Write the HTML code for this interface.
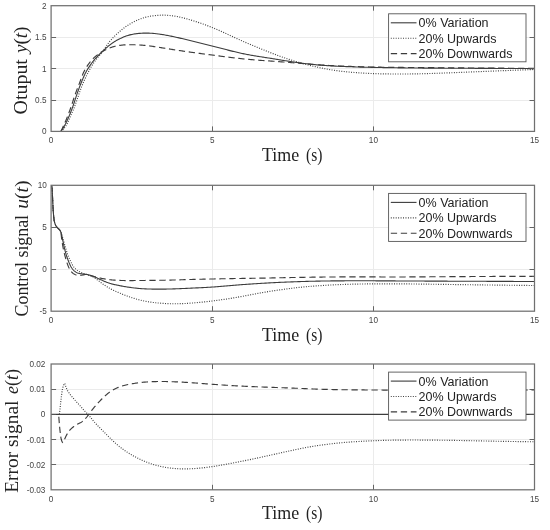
<!DOCTYPE html>
<html lang="en">
<head>
<meta charset="utf-8">
<title>Output, control signal and error signal under parameter variation</title>
<style>
html,body{margin:0;padding:0;background:#fff;}
body{width:550px;height:530px;overflow:hidden;}
svg{display:block;}
</style>
</head>
<body>
<svg width="550" height="530" viewBox="0 0 550 530">
<rect width="550" height="530" fill="#fff"/>
<g>
<path d="M212.5 5.7 V131.4 M373.5 5.7 V131.4 M51.1 37.5 H534.5 M51.1 68.5 H534.5 M51.1 100.5 H534.5" stroke="#ebebeb" stroke-width="1" fill="none"/>
<path d="M60.80 131.50 L61.30 130.84 L61.80 130.15 L62.30 129.42 L62.80 128.66 L63.30 127.86 L63.80 127.04 L64.30 126.18 L64.80 125.29 L65.30 124.36 L65.80 123.39 L66.30 122.37 L66.80 121.31 L67.30 120.22 L67.80 119.11 L68.30 117.97 L68.80 116.82 L69.30 115.65 L69.80 114.46 L70.30 113.23 L70.80 111.96 L71.30 110.67 L71.80 109.35 L72.30 108.00 L72.80 106.63 L73.30 105.24 L73.80 103.78 L74.30 102.26 L74.80 100.71 L75.30 99.15 L75.80 97.60 L76.30 96.07 L76.80 94.60 L77.30 93.17 L77.80 91.76 L78.30 90.36 L78.80 88.98 L79.30 87.63 L79.80 86.30 L80.30 85.01 L80.80 83.75 L81.30 82.51 L81.80 81.28 L82.30 80.06 L82.80 78.86 L83.30 77.69 L83.80 76.54 L84.30 75.44 L84.80 74.37 L85.30 73.35 L85.80 72.39 L86.30 71.47 L86.80 70.58 L87.30 69.73 L87.80 68.91 L88.30 68.12 L88.80 67.35 L89.30 66.59 L89.80 65.85 L90.30 65.13 L90.80 64.41 L91.30 63.71 L91.80 63.03 L92.30 62.36 L92.80 61.71 L93.30 61.07 L93.80 60.45 L94.30 59.84 L94.80 59.25 L95.30 58.68 L95.80 58.12 L96.30 57.58 L96.80 57.05 L97.30 56.53 L97.80 56.01 L98.30 55.50 L98.80 54.99 L99.30 54.48 L99.80 53.99 L100.30 53.50 L100.80 53.01 L101.30 52.53 L101.80 52.06 L102.30 51.59 L102.80 51.12 L103.30 50.65 L103.80 50.18 L104.30 49.72 L104.80 49.26 L105.30 48.81 L105.80 48.36 L106.30 47.92 L106.80 47.48 L107.30 47.05 L107.80 46.62 L108.30 46.20 L108.80 45.78 L109.30 45.37 L109.80 44.97 L110.30 44.59 L110.80 44.21 L111.30 43.85 L111.80 43.49 L112.30 43.14 L112.80 42.79 L113.30 42.46 L113.80 42.13 L114.30 41.81 L114.80 41.50 L115.30 41.19 L115.80 40.89 L116.30 40.60 L116.80 40.32 L117.30 40.04 L117.80 39.76 L118.30 39.49 L118.80 39.23 L119.30 38.97 L119.80 38.72 L120.00 38.62 L121.00 38.14 L122.00 37.68 L123.00 37.25 L124.00 36.83 L125.00 36.44 L126.00 36.07 L127.00 35.73 L128.00 35.42 L129.00 35.13 L130.00 34.87 L131.00 34.63 L132.00 34.42 L133.00 34.22 L134.00 34.05 L135.00 33.89 L136.00 33.75 L137.00 33.62 L138.00 33.51 L139.00 33.41 L140.00 33.33 L141.00 33.26 L142.00 33.20 L143.00 33.15 L144.00 33.12 L145.00 33.10 L146.00 33.09 L147.00 33.10 L148.00 33.11 L149.00 33.14 L150.00 33.18 L151.00 33.24 L152.00 33.30 L153.00 33.38 L154.00 33.47 L155.00 33.57 L156.00 33.68 L157.00 33.80 L158.00 33.93 L159.00 34.06 L160.00 34.20 L161.00 34.34 L162.00 34.49 L163.00 34.65 L164.00 34.82 L165.00 34.99 L166.00 35.17 L167.00 35.35 L168.00 35.54 L169.00 35.74 L170.00 35.94 L171.00 36.14 L172.00 36.35 L173.00 36.56 L174.00 36.78 L175.00 36.99 L176.00 37.21 L177.00 37.43 L178.00 37.65 L179.00 37.88 L180.00 38.11 L181.00 38.34 L182.00 38.57 L183.00 38.80 L184.00 39.03 L185.00 39.27 L186.00 39.51 L187.00 39.75 L188.00 39.99 L189.00 40.23 L190.00 40.47 L191.00 40.72 L192.00 40.96 L193.00 41.21 L194.00 41.46 L195.00 41.71 L196.00 41.96 L197.00 42.21 L198.00 42.46 L199.00 42.72 L200.00 42.97 L201.00 43.22 L202.00 43.48 L203.00 43.73 L204.00 43.99 L205.00 44.24 L206.00 44.50 L207.00 44.75 L208.00 45.00 L209.00 45.26 L210.00 45.51 L211.00 45.76 L212.00 46.02 L213.00 46.27 L214.00 46.53 L215.00 46.78 L216.00 47.04 L217.00 47.29 L218.00 47.55 L219.00 47.80 L220.00 48.06 L221.00 48.31 L222.00 48.57 L223.00 48.82 L224.00 49.08 L225.00 49.34 L226.00 49.59 L227.00 49.84 L228.00 50.10 L229.00 50.35 L230.00 50.60 L231.00 50.85 L232.00 51.10 L233.00 51.35 L234.00 51.59 L235.00 51.83 L236.00 52.07 L237.00 52.30 L238.00 52.54 L239.00 52.76 L240.00 52.99 L241.00 53.21 L242.00 53.42 L243.00 53.64 L244.00 53.84 L245.00 54.05 L246.00 54.25 L247.00 54.44 L248.00 54.63 L249.00 54.82 L250.00 55.00 L251.00 55.18 L252.00 55.35 L253.00 55.53 L254.00 55.70 L255.00 55.86 L256.00 56.03 L257.00 56.19 L258.00 56.35 L259.00 56.51 L260.00 56.67 L261.00 56.83 L262.00 56.98 L263.00 57.14 L264.00 57.30 L265.00 57.45 L266.00 57.61 L267.00 57.77 L268.00 57.92 L269.00 58.08 L270.00 58.24 L271.00 58.40 L272.00 58.56 L273.00 58.72 L274.00 58.88 L275.00 59.04 L276.00 59.21 L277.00 59.37 L278.00 59.53 L279.00 59.70 L280.00 59.86 L281.00 60.02 L282.00 60.19 L283.00 60.35 L284.00 60.51 L285.00 60.67 L286.00 60.83 L287.00 60.99 L288.00 61.15 L289.00 61.31 L290.00 61.47 L291.00 61.62 L292.00 61.78 L293.00 61.93 L294.00 62.08 L295.00 62.22 L296.00 62.37 L297.00 62.51 L298.00 62.65 L299.00 62.79 L300.00 62.92 L301.00 63.05 L302.00 63.18 L303.00 63.31 L304.00 63.44 L305.00 63.56 L306.00 63.68 L307.00 63.80 L308.00 63.91 L309.00 64.03 L310.00 64.14 L311.00 64.24 L312.00 64.35 L313.00 64.45 L314.00 64.55 L315.00 64.65 L316.00 64.75 L317.00 64.84 L318.00 64.93 L319.00 65.02 L320.00 65.10 L321.00 65.19 L322.00 65.27 L323.00 65.34 L324.00 65.42 L325.00 65.49 L326.00 65.56 L327.00 65.63 L328.00 65.70 L329.00 65.76 L330.00 65.82 L331.00 65.88 L332.00 65.94 L333.00 65.99 L334.00 66.05 L335.00 66.10 L336.00 66.15 L337.00 66.20 L338.00 66.25 L339.00 66.29 L340.00 66.34 L341.00 66.38 L342.00 66.43 L343.00 66.47 L344.00 66.51 L345.00 66.55 L346.00 66.59 L347.00 66.63 L348.00 66.67 L349.00 66.71 L350.00 66.75 L351.00 66.78 L352.00 66.82 L353.00 66.85 L354.00 66.89 L355.00 66.92 L356.00 66.95 L357.00 66.99 L358.00 67.02 L359.00 67.05 L360.00 67.08 L361.00 67.10 L362.00 67.13 L363.00 67.16 L364.00 67.18 L365.00 67.21 L366.00 67.23 L367.00 67.25 L368.00 67.28 L369.00 67.30 L370.00 67.32 L371.00 67.34 L372.00 67.36 L373.00 67.38 L374.00 67.40 L375.00 67.42 L376.00 67.44 L377.00 67.46 L378.00 67.48 L379.00 67.50 L380.00 67.52 L381.00 67.54 L382.00 67.56 L383.00 67.58 L384.00 67.59 L385.00 67.61 L386.00 67.63 L387.00 67.65 L388.00 67.67 L389.00 67.68 L390.00 67.70 L391.00 67.72 L392.00 67.73 L393.00 67.75 L394.00 67.77 L395.00 67.78 L396.00 67.80 L397.00 67.81 L398.00 67.83 L399.00 67.84 L400.00 67.86 L401.00 67.87 L402.00 67.89 L403.00 67.90 L404.00 67.91 L405.00 67.92 L406.00 67.94 L407.00 67.95 L408.00 67.96 L409.00 67.97 L410.00 67.98 L411.00 67.99 L412.00 68.00 L413.00 68.01 L414.00 68.01 L415.00 68.02 L416.00 68.03 L417.00 68.04 L418.00 68.04 L419.00 68.05 L420.00 68.06 L421.00 68.06 L422.00 68.07 L423.00 68.08 L424.00 68.08 L425.00 68.09 L426.00 68.09 L427.00 68.10 L428.00 68.10 L429.00 68.11 L430.00 68.11 L431.00 68.12 L432.00 68.12 L433.00 68.13 L434.00 68.13 L435.00 68.13 L436.00 68.14 L437.00 68.14 L438.00 68.15 L439.00 68.15 L440.00 68.16 L441.00 68.16 L442.00 68.17 L443.00 68.17 L444.00 68.17 L445.00 68.18 L446.00 68.18 L447.00 68.19 L448.00 68.19 L449.00 68.20 L450.00 68.20 L451.00 68.21 L452.00 68.21 L453.00 68.22 L454.00 68.22 L455.00 68.23 L456.00 68.23 L457.00 68.24 L458.00 68.24 L459.00 68.25 L460.00 68.25 L461.00 68.26 L462.00 68.26 L463.00 68.27 L464.00 68.27 L465.00 68.28 L466.00 68.28 L467.00 68.29 L468.00 68.29 L469.00 68.30 L470.00 68.30 L471.00 68.31 L472.00 68.31 L473.00 68.32 L474.00 68.32 L475.00 68.33 L476.00 68.33 L477.00 68.34 L478.00 68.34 L479.00 68.35 L480.00 68.35 L481.00 68.36 L482.00 68.36 L483.00 68.37 L484.00 68.37 L485.00 68.38 L486.00 68.38 L487.00 68.38 L488.00 68.39 L489.00 68.39 L490.00 68.40 L491.00 68.40 L492.00 68.41 L493.00 68.41 L494.00 68.42 L495.00 68.42 L496.00 68.43 L497.00 68.43 L498.00 68.44 L499.00 68.44 L500.00 68.45 L501.00 68.45 L502.00 68.46 L503.00 68.46 L504.00 68.46 L505.00 68.47 L506.00 68.47 L507.00 68.48 L508.00 68.48 L509.00 68.49 L510.00 68.49 L511.00 68.50 L512.00 68.50 L513.00 68.51 L514.00 68.51 L515.00 68.51 L516.00 68.52 L517.00 68.52 L518.00 68.53 L519.00 68.53 L520.00 68.54 L521.00 68.54 L522.00 68.55 L523.00 68.55 L524.00 68.55 L525.00 68.56 L526.00 68.56 L527.00 68.57 L528.00 68.57 L529.00 68.58 L530.00 68.58 L531.00 68.59 L532.00 68.59 L533.00 68.59 L534.00 68.60 L534.50 68.60" fill="none" stroke="#3c3c3c" stroke-width="1.1"/>
<path d="M60.90 131.50 L61.40 131.14 L61.90 130.73 L62.40 130.26 L62.90 129.74 L63.40 129.18 L63.90 128.58 L64.40 127.94 L64.90 127.27 L65.40 126.57 L65.90 125.85 L66.40 125.05 L66.90 124.17 L67.40 123.20 L67.90 122.17 L68.40 121.10 L68.90 119.99 L69.40 118.86 L69.90 117.72 L70.40 116.59 L70.90 115.48 L71.40 114.35 L71.90 113.20 L72.40 112.02 L72.90 110.83 L73.40 109.61 L73.90 108.37 L74.40 107.10 L74.90 105.80 L75.40 104.45 L75.90 103.05 L76.40 101.60 L76.90 100.13 L77.40 98.64 L77.90 97.17 L78.40 95.71 L78.90 94.29 L79.40 92.86 L79.90 91.42 L80.40 90.00 L80.90 88.59 L81.40 87.23 L81.90 85.92 L82.40 84.69 L82.90 83.50 L83.40 82.33 L83.90 81.20 L84.40 80.09 L84.90 79.00 L85.40 77.94 L85.90 76.90 L86.40 75.87 L86.90 74.87 L87.40 73.88 L87.90 72.91 L88.40 71.95 L88.90 71.01 L89.40 70.08 L89.90 69.16 L90.40 68.27 L90.90 67.39 L91.40 66.54 L91.90 65.70 L92.40 64.89 L92.90 64.11 L93.40 63.35 L93.90 62.61 L94.40 61.89 L94.90 61.20 L95.40 60.52 L95.90 59.85 L96.40 59.19 L96.90 58.54 L97.40 57.90 L97.90 57.27 L98.40 56.67 L98.90 56.08 L99.40 55.51 L99.90 54.94 L100.40 54.36 L100.90 53.78 L101.40 53.19 L101.90 52.58 L102.40 51.94 L102.90 51.27 L103.40 50.55 L103.90 49.79 L104.40 49.01 L104.90 48.21 L105.40 47.42 L105.90 46.64 L106.40 45.90 L106.90 45.20 L107.40 44.50 L107.90 43.82 L108.40 43.15 L108.90 42.49 L109.40 41.86 L109.90 41.24 L110.40 40.65 L110.90 40.07 L111.40 39.51 L111.90 38.96 L112.40 38.42 L112.90 37.89 L113.40 37.37 L113.90 36.87 L114.40 36.37 L114.90 35.88 L115.40 35.39 L115.90 34.91 L116.40 34.44 L116.90 33.98 L117.40 33.52 L117.90 33.06 L118.40 32.61 L118.90 32.17 L119.40 31.74 L119.90 31.30 L120.00 31.22 L121.00 30.38 L122.00 29.56 L123.00 28.77 L124.00 27.99 L125.00 27.24 L126.00 26.52 L127.00 25.82 L128.00 25.15 L129.00 24.51 L130.00 23.90 L131.00 23.31 L132.00 22.75 L133.00 22.21 L134.00 21.70 L135.00 21.20 L136.00 20.73 L137.00 20.28 L138.00 19.85 L139.00 19.44 L140.00 19.06 L141.00 18.69 L142.00 18.35 L143.00 18.02 L144.00 17.72 L145.00 17.43 L146.00 17.17 L147.00 16.92 L148.00 16.69 L149.00 16.48 L150.00 16.29 L151.00 16.11 L152.00 15.95 L153.00 15.81 L154.00 15.68 L155.00 15.57 L156.00 15.48 L157.00 15.40 L158.00 15.33 L159.00 15.29 L160.00 15.23 L161.00 15.19 L162.00 15.17 L163.00 15.16 L164.00 15.17 L165.00 15.19 L166.00 15.22 L167.00 15.27 L168.00 15.33 L169.00 15.41 L170.00 15.50 L171.00 15.61 L172.00 15.73 L173.00 15.86 L174.00 16.01 L175.00 16.16 L176.00 16.33 L177.00 16.52 L178.00 16.71 L179.00 16.91 L180.00 17.13 L181.00 17.36 L182.00 17.59 L183.00 17.84 L184.00 18.09 L185.00 18.35 L186.00 18.62 L187.00 18.90 L188.00 19.18 L189.00 19.47 L190.00 19.77 L191.00 20.07 L192.00 20.38 L193.00 20.69 L194.00 21.01 L195.00 21.33 L196.00 21.65 L197.00 21.98 L198.00 22.31 L199.00 22.65 L200.00 22.99 L201.00 23.33 L202.00 23.68 L203.00 24.03 L204.00 24.39 L205.00 24.75 L206.00 25.12 L207.00 25.49 L208.00 25.87 L209.00 26.25 L210.00 26.64 L211.00 27.03 L212.00 27.43 L213.00 27.83 L214.00 28.25 L215.00 28.66 L216.00 29.09 L217.00 29.51 L218.00 29.95 L219.00 30.39 L220.00 30.83 L221.00 31.28 L222.00 31.73 L223.00 32.18 L224.00 32.64 L225.00 33.10 L226.00 33.56 L227.00 34.02 L228.00 34.48 L229.00 34.95 L230.00 35.41 L231.00 35.87 L232.00 36.33 L233.00 36.80 L234.00 37.25 L235.00 37.71 L236.00 38.17 L237.00 38.62 L238.00 39.08 L239.00 39.53 L240.00 39.97 L241.00 40.42 L242.00 40.86 L243.00 41.30 L244.00 41.74 L245.00 42.18 L246.00 42.61 L247.00 43.04 L248.00 43.47 L249.00 43.89 L250.00 44.32 L251.00 44.74 L252.00 45.16 L253.00 45.57 L254.00 45.99 L255.00 46.40 L256.00 46.82 L257.00 47.23 L258.00 47.64 L259.00 48.05 L260.00 48.46 L261.00 48.87 L262.00 49.27 L263.00 49.68 L264.00 50.09 L265.00 50.49 L266.00 50.89 L267.00 51.29 L268.00 51.69 L269.00 52.09 L270.00 52.48 L271.00 52.87 L272.00 53.26 L273.00 53.65 L274.00 54.03 L275.00 54.41 L276.00 54.79 L277.00 55.16 L278.00 55.53 L279.00 55.89 L280.00 56.26 L281.00 56.61 L282.00 56.97 L283.00 57.32 L284.00 57.67 L285.00 58.01 L286.00 58.35 L287.00 58.69 L288.00 59.02 L289.00 59.35 L290.00 59.67 L291.00 59.99 L292.00 60.31 L293.00 60.62 L294.00 60.93 L295.00 61.23 L296.00 61.53 L297.00 61.83 L298.00 62.13 L299.00 62.42 L300.00 62.70 L301.00 62.99 L302.00 63.27 L303.00 63.54 L304.00 63.82 L305.00 64.09 L306.00 64.35 L307.00 64.62 L308.00 64.88 L309.00 65.13 L310.00 65.39 L311.00 65.63 L312.00 65.88 L313.00 66.12 L314.00 66.36 L315.00 66.60 L316.00 66.83 L317.00 67.06 L318.00 67.28 L319.00 67.50 L320.00 67.71 L321.00 67.92 L322.00 68.13 L323.00 68.33 L324.00 68.53 L325.00 68.73 L326.00 68.91 L327.00 69.10 L328.00 69.28 L329.00 69.45 L330.00 69.63 L331.00 69.79 L332.00 69.95 L333.00 70.11 L334.00 70.26 L335.00 70.41 L336.00 70.55 L337.00 70.69 L338.00 70.83 L339.00 70.96 L340.00 71.08 L341.00 71.21 L342.00 71.32 L343.00 71.44 L344.00 71.55 L345.00 71.65 L346.00 71.76 L347.00 71.86 L348.00 71.95 L349.00 72.05 L350.00 72.14 L351.00 72.23 L352.00 72.31 L353.00 72.39 L354.00 72.47 L355.00 72.55 L356.00 72.63 L357.00 72.70 L358.00 72.77 L359.00 72.84 L360.00 72.90 L361.00 72.97 L362.00 73.03 L363.00 73.09 L364.00 73.15 L365.00 73.21 L366.00 73.26 L367.00 73.31 L368.00 73.36 L369.00 73.41 L370.00 73.46 L371.00 73.50 L372.00 73.54 L373.00 73.58 L374.00 73.62 L375.00 73.65 L376.00 73.69 L377.00 73.72 L378.00 73.74 L379.00 73.77 L380.00 73.80 L381.00 73.82 L382.00 73.84 L383.00 73.86 L384.00 73.88 L385.00 73.89 L386.00 73.91 L387.00 73.92 L388.00 73.93 L389.00 73.94 L390.00 73.95 L391.00 73.96 L392.00 73.97 L393.00 73.97 L394.00 73.98 L395.00 73.98 L396.00 73.98 L397.00 73.98 L398.00 73.99 L399.00 73.99 L400.00 73.99 L401.00 73.99 L402.00 73.99 L403.00 73.98 L404.00 73.98 L405.00 73.98 L406.00 73.97 L407.00 73.97 L408.00 73.96 L409.00 73.96 L410.00 73.95 L411.00 73.94 L412.00 73.93 L413.00 73.92 L414.00 73.91 L415.00 73.89 L416.00 73.88 L417.00 73.86 L418.00 73.84 L419.00 73.82 L420.00 73.80 L421.00 73.78 L422.00 73.75 L423.00 73.73 L424.00 73.70 L425.00 73.68 L426.00 73.65 L427.00 73.62 L428.00 73.59 L429.00 73.56 L430.00 73.53 L431.00 73.50 L432.00 73.47 L433.00 73.43 L434.00 73.40 L435.00 73.37 L436.00 73.33 L437.00 73.30 L438.00 73.26 L439.00 73.23 L440.00 73.19 L441.00 73.16 L442.00 73.12 L443.00 73.08 L444.00 73.05 L445.00 73.01 L446.00 72.97 L447.00 72.93 L448.00 72.90 L449.00 72.86 L450.00 72.82 L451.00 72.78 L452.00 72.74 L453.00 72.70 L454.00 72.66 L455.00 72.62 L456.00 72.58 L457.00 72.54 L458.00 72.50 L459.00 72.46 L460.00 72.42 L461.00 72.38 L462.00 72.33 L463.00 72.29 L464.00 72.25 L465.00 72.21 L466.00 72.17 L467.00 72.13 L468.00 72.09 L469.00 72.05 L470.00 72.00 L471.00 71.96 L472.00 71.92 L473.00 71.88 L474.00 71.84 L475.00 71.80 L476.00 71.76 L477.00 71.72 L478.00 71.68 L479.00 71.64 L480.00 71.60 L481.00 71.56 L482.00 71.52 L483.00 71.48 L484.00 71.44 L485.00 71.40 L486.00 71.36 L487.00 71.32 L488.00 71.28 L489.00 71.24 L490.00 71.20 L491.00 71.16 L492.00 71.12 L493.00 71.08 L494.00 71.04 L495.00 71.00 L496.00 70.96 L497.00 70.92 L498.00 70.88 L499.00 70.84 L500.00 70.80 L501.00 70.76 L502.00 70.73 L503.00 70.69 L504.00 70.65 L505.00 70.61 L506.00 70.57 L507.00 70.53 L508.00 70.49 L509.00 70.46 L510.00 70.42 L511.00 70.38 L512.00 70.34 L513.00 70.30 L514.00 70.27 L515.00 70.23 L516.00 70.19 L517.00 70.15 L518.00 70.11 L519.00 70.08 L520.00 70.04 L521.00 70.00 L522.00 69.96 L523.00 69.93 L524.00 69.89 L525.00 69.85 L526.00 69.81 L527.00 69.78 L528.00 69.74 L529.00 69.70 L530.00 69.67 L531.00 69.63 L532.00 69.59 L533.00 69.55 L534.00 69.52 L534.50 69.50" fill="none" stroke="#3a3a3a" stroke-width="1.15" stroke-dasharray="0.95 1.5"/>
<path d="M60.80 131.50 L61.30 130.49 L61.80 129.47 L62.30 128.43 L62.80 127.36 L63.30 126.28 L63.80 125.18 L64.30 124.06 L64.80 122.93 L65.30 121.78 L65.80 120.62 L66.30 119.43 L66.80 118.22 L67.30 116.98 L67.80 115.72 L68.30 114.42 L68.80 113.09 L69.30 111.73 L69.80 110.34 L70.30 108.94 L70.80 107.52 L71.30 106.09 L71.80 104.63 L72.30 103.13 L72.80 101.60 L73.30 100.05 L73.80 98.51 L74.30 96.99 L74.80 95.51 L75.30 94.09 L75.80 92.72 L76.30 91.37 L76.80 90.06 L77.30 88.76 L77.80 87.47 L78.30 86.19 L78.80 84.90 L79.30 83.61 L79.80 82.28 L80.30 80.91 L80.80 79.53 L81.30 78.16 L81.80 76.80 L82.30 75.48 L82.80 74.21 L83.30 73.01 L83.80 71.90 L84.30 70.89 L84.80 69.94 L85.30 69.05 L85.80 68.20 L86.30 67.39 L86.80 66.62 L87.30 65.87 L87.80 65.14 L88.30 64.44 L88.80 63.74 L89.30 63.06 L89.80 62.40 L90.30 61.76 L90.80 61.13 L91.30 60.52 L91.80 59.94 L92.30 59.39 L92.80 58.86 L93.30 58.36 L93.80 57.89 L94.30 57.43 L94.80 57.00 L95.30 56.57 L95.80 56.16 L96.30 55.77 L96.80 55.37 L97.30 54.98 L97.80 54.60 L98.30 54.21 L98.80 53.83 L99.30 53.45 L99.80 53.09 L100.30 52.73 L100.80 52.38 L101.30 52.05 L101.80 51.73 L102.30 51.43 L102.80 51.15 L103.30 50.89 L103.80 50.64 L104.30 50.41 L104.80 50.19 L105.30 49.97 L105.80 49.76 L106.30 49.54 L106.80 49.32 L107.30 49.09 L107.80 48.85 L108.30 48.62 L108.80 48.38 L109.30 48.16 L109.80 47.94 L110.30 47.74 L110.80 47.55 L111.30 47.37 L111.80 47.19 L112.30 47.03 L112.80 46.87 L113.30 46.72 L113.80 46.57 L114.30 46.44 L114.80 46.31 L115.30 46.19 L115.80 46.07 L116.30 45.97 L116.80 45.87 L117.30 45.77 L117.80 45.68 L118.30 45.60 L118.80 45.52 L119.30 45.44 L119.80 45.37 L120.00 45.34 L121.00 45.22 L122.00 45.11 L123.00 45.02 L124.00 44.94 L125.00 44.87 L126.00 44.81 L127.00 44.77 L128.00 44.74 L129.00 44.72 L130.00 44.71 L131.00 44.71 L132.00 44.73 L133.00 44.74 L134.00 44.77 L135.00 44.80 L136.00 44.84 L137.00 44.88 L138.00 44.93 L139.00 44.99 L140.00 45.05 L141.00 45.11 L142.00 45.18 L143.00 45.26 L144.00 45.35 L145.00 45.44 L146.00 45.54 L147.00 45.65 L148.00 45.77 L149.00 45.89 L150.00 46.01 L151.00 46.14 L152.00 46.28 L153.00 46.42 L154.00 46.57 L155.00 46.72 L156.00 46.87 L157.00 47.02 L158.00 47.18 L159.00 47.33 L160.00 47.49 L161.00 47.65 L162.00 47.81 L163.00 47.96 L164.00 48.13 L165.00 48.29 L166.00 48.45 L167.00 48.61 L168.00 48.77 L169.00 48.93 L170.00 49.09 L171.00 49.24 L172.00 49.40 L173.00 49.56 L174.00 49.71 L175.00 49.87 L176.00 50.02 L177.00 50.17 L178.00 50.32 L179.00 50.47 L180.00 50.62 L181.00 50.77 L182.00 50.92 L183.00 51.06 L184.00 51.21 L185.00 51.35 L186.00 51.49 L187.00 51.64 L188.00 51.78 L189.00 51.92 L190.00 52.06 L191.00 52.20 L192.00 52.34 L193.00 52.48 L194.00 52.62 L195.00 52.76 L196.00 52.89 L197.00 53.03 L198.00 53.17 L199.00 53.31 L200.00 53.44 L201.00 53.58 L202.00 53.71 L203.00 53.85 L204.00 53.98 L205.00 54.12 L206.00 54.25 L207.00 54.38 L208.00 54.52 L209.00 54.65 L210.00 54.78 L211.00 54.91 L212.00 55.04 L213.00 55.17 L214.00 55.30 L215.00 55.43 L216.00 55.56 L217.00 55.69 L218.00 55.82 L219.00 55.94 L220.00 56.07 L221.00 56.20 L222.00 56.32 L223.00 56.45 L224.00 56.58 L225.00 56.70 L226.00 56.83 L227.00 56.95 L228.00 57.08 L229.00 57.20 L230.00 57.33 L231.00 57.45 L232.00 57.58 L233.00 57.70 L234.00 57.82 L235.00 57.94 L236.00 58.06 L237.00 58.18 L238.00 58.29 L239.00 58.41 L240.00 58.52 L241.00 58.63 L242.00 58.74 L243.00 58.84 L244.00 58.95 L245.00 59.05 L246.00 59.15 L247.00 59.25 L248.00 59.34 L249.00 59.43 L250.00 59.52 L251.00 59.61 L252.00 59.69 L253.00 59.77 L254.00 59.85 L255.00 59.93 L256.00 60.01 L257.00 60.09 L258.00 60.16 L259.00 60.23 L260.00 60.31 L261.00 60.38 L262.00 60.45 L263.00 60.52 L264.00 60.59 L265.00 60.66 L266.00 60.73 L267.00 60.80 L268.00 60.87 L269.00 60.94 L270.00 61.01 L271.00 61.08 L272.00 61.15 L273.00 61.22 L274.00 61.30 L275.00 61.37 L276.00 61.44 L277.00 61.51 L278.00 61.59 L279.00 61.66 L280.00 61.74 L281.00 61.82 L282.00 61.89 L283.00 61.97 L284.00 62.05 L285.00 62.13 L286.00 62.21 L287.00 62.29 L288.00 62.37 L289.00 62.45 L290.00 62.53 L291.00 62.62 L292.00 62.70 L293.00 62.78 L294.00 62.86 L295.00 62.95 L296.00 63.03 L297.00 63.11 L298.00 63.19 L299.00 63.27 L300.00 63.35 L301.00 63.44 L302.00 63.52 L303.00 63.60 L304.00 63.68 L305.00 63.76 L306.00 63.83 L307.00 63.91 L308.00 63.99 L309.00 64.07 L310.00 64.15 L311.00 64.22 L312.00 64.30 L313.00 64.38 L314.00 64.45 L315.00 64.53 L316.00 64.60 L317.00 64.67 L318.00 64.75 L319.00 64.82 L320.00 64.89 L321.00 64.96 L322.00 65.03 L323.00 65.09 L324.00 65.16 L325.00 65.22 L326.00 65.29 L327.00 65.35 L328.00 65.41 L329.00 65.47 L330.00 65.53 L331.00 65.59 L332.00 65.64 L333.00 65.69 L334.00 65.75 L335.00 65.80 L336.00 65.85 L337.00 65.89 L338.00 65.94 L339.00 65.99 L340.00 66.03 L341.00 66.07 L342.00 66.11 L343.00 66.15 L344.00 66.19 L345.00 66.23 L346.00 66.27 L347.00 66.30 L348.00 66.34 L349.00 66.37 L350.00 66.41 L351.00 66.44 L352.00 66.48 L353.00 66.51 L354.00 66.54 L355.00 66.57 L356.00 66.60 L357.00 66.63 L358.00 66.66 L359.00 66.69 L360.00 66.72 L361.00 66.75 L362.00 66.78 L363.00 66.81 L364.00 66.83 L365.00 66.86 L366.00 66.89 L367.00 66.91 L368.00 66.94 L369.00 66.96 L370.00 66.98 L371.00 67.00 L372.00 67.03 L373.00 67.05 L374.00 67.07 L375.00 67.09 L376.00 67.11 L377.00 67.12 L378.00 67.14 L379.00 67.16 L380.00 67.17 L381.00 67.19 L382.00 67.20 L383.00 67.22 L384.00 67.23 L385.00 67.25 L386.00 67.26 L387.00 67.27 L388.00 67.28 L389.00 67.29 L390.00 67.31 L391.00 67.32 L392.00 67.33 L393.00 67.34 L394.00 67.35 L395.00 67.36 L396.00 67.37 L397.00 67.38 L398.00 67.39 L399.00 67.40 L400.00 67.41 L401.00 67.42 L402.00 67.43 L403.00 67.44 L404.00 67.45 L405.00 67.45 L406.00 67.46 L407.00 67.47 L408.00 67.48 L409.00 67.49 L410.00 67.50 L411.00 67.51 L412.00 67.51 L413.00 67.52 L414.00 67.53 L415.00 67.54 L416.00 67.55 L417.00 67.56 L418.00 67.56 L419.00 67.57 L420.00 67.58 L421.00 67.59 L422.00 67.60 L423.00 67.60 L424.00 67.61 L425.00 67.62 L426.00 67.63 L427.00 67.63 L428.00 67.64 L429.00 67.65 L430.00 67.66 L431.00 67.66 L432.00 67.67 L433.00 67.68 L434.00 67.68 L435.00 67.69 L436.00 67.70 L437.00 67.71 L438.00 67.71 L439.00 67.72 L440.00 67.73 L441.00 67.74 L442.00 67.74 L443.00 67.75 L444.00 67.76 L445.00 67.76 L446.00 67.77 L447.00 67.78 L448.00 67.79 L449.00 67.79 L450.00 67.80 L451.00 67.81 L452.00 67.82 L453.00 67.82 L454.00 67.83 L455.00 67.84 L456.00 67.85 L457.00 67.86 L458.00 67.86 L459.00 67.87 L460.00 67.88 L461.00 67.89 L462.00 67.89 L463.00 67.90 L464.00 67.91 L465.00 67.92 L466.00 67.93 L467.00 67.93 L468.00 67.94 L469.00 67.95 L470.00 67.96 L471.00 67.97 L472.00 67.97 L473.00 67.98 L474.00 67.99 L475.00 68.00 L476.00 68.00 L477.00 68.01 L478.00 68.02 L479.00 68.02 L480.00 68.03 L481.00 68.04 L482.00 68.04 L483.00 68.05 L484.00 68.06 L485.00 68.06 L486.00 68.07 L487.00 68.08 L488.00 68.08 L489.00 68.09 L490.00 68.10 L491.00 68.10 L492.00 68.11 L493.00 68.11 L494.00 68.12 L495.00 68.13 L496.00 68.13 L497.00 68.14 L498.00 68.14 L499.00 68.15 L500.00 68.15 L501.00 68.16 L502.00 68.16 L503.00 68.17 L504.00 68.17 L505.00 68.18 L506.00 68.18 L507.00 68.19 L508.00 68.19 L509.00 68.20 L510.00 68.20 L511.00 68.21 L512.00 68.21 L513.00 68.22 L514.00 68.22 L515.00 68.23 L516.00 68.23 L517.00 68.23 L518.00 68.24 L519.00 68.24 L520.00 68.25 L521.00 68.25 L522.00 68.25 L523.00 68.26 L524.00 68.26 L525.00 68.27 L526.00 68.27 L527.00 68.27 L528.00 68.28 L529.00 68.28 L530.00 68.28 L531.00 68.29 L532.00 68.29 L533.00 68.30 L534.00 68.30 L534.50 68.30" fill="none" stroke="#3c3c3c" stroke-width="1.15" stroke-dasharray="6.3 3.7"/>
<path d="M212.5 131.4 v-5 M212.5 5.7 v5 M373.5 131.4 v-5 M373.5 5.7 v5 M51.1 37.5 h5 M534.5 37.5 h-5 M51.1 68.5 h5 M534.5 68.5 h-5 M51.1 100.5 h5 M534.5 100.5 h-5" stroke="#555" stroke-width="0.9" fill="none"/>
<rect x="51.1" y="5.7" width="483.4" height="125.7" fill="none" stroke="#707070" stroke-width="1.25"/>
<g font-family="'Liberation Sans', Arial, sans-serif" font-size="8.2" fill="#444">
<text x="46.5" y="8.7" text-anchor="end">2</text>
<text x="46.5" y="40.1" text-anchor="end">1.5</text>
<text x="46.5" y="71.5" text-anchor="end">1</text>
<text x="46.5" y="103.0" text-anchor="end">0.5</text>
<text x="46.5" y="134.4" text-anchor="end">0</text>
<text x="51.1" y="143.4" text-anchor="middle">0</text>
<text x="212.2" y="143.4" text-anchor="middle">5</text>
<text x="373.4" y="143.4" text-anchor="middle">10</text>
<text x="534.5" y="143.4" text-anchor="middle">15</text>
</g>
<text x="261.9" y="160.8" font-family="'Liberation Serif', 'Times New Roman', serif" font-size="18.8" fill="#222" textLength="37.2" lengthAdjust="spacingAndGlyphs">Time</text>
<text x="306.0" y="160.8" font-family="'Liberation Serif', 'Times New Roman', serif" font-size="18.8" fill="#222" textLength="16.4" lengthAdjust="spacingAndGlyphs">(s)</text>
<text transform="translate(27.4 114.5) rotate(-90)" font-family="'Liberation Serif', 'Times New Roman', serif" font-size="19.3" fill="#222" textLength="55.4" lengthAdjust="spacingAndGlyphs">Otuput</text>
<text transform="translate(27.4 53.0) rotate(-90)" font-family="'Liberation Serif', 'Times New Roman', serif" font-size="19.3" fill="#222" textLength="26.4" lengthAdjust="spacingAndGlyphs"><tspan font-style="italic">y</tspan>(<tspan font-style="italic">t</tspan>)</text>
<rect x="388.6" y="13.8" width="137.4" height="48" fill="#fff" stroke="#555" stroke-width="0.9"/>
<path d="M390.8 22.8 H416.5" fill="none" stroke="#3c3c3c" stroke-width="1.1"/>
<text x="418.6" y="27.2" font-family="'Liberation Sans', Arial, sans-serif" font-size="12.5" fill="#222">0% Variation</text>
<path d="M390.8 38.2 H416.5" fill="none" stroke="#3a3a3a" stroke-width="1.15" stroke-dasharray="0.95 1.5"/>
<text x="418.6" y="42.6" font-family="'Liberation Sans', Arial, sans-serif" font-size="12.5" fill="#222">20% Upwards</text>
<path d="M390.8 53.6 H416.5" fill="none" stroke="#3c3c3c" stroke-width="1.15" stroke-dasharray="6.3 3.7"/>
<text x="418.6" y="58.0" font-family="'Liberation Sans', Arial, sans-serif" font-size="12.5" fill="#222">20% Downwards</text>
</g>
<g>
<path d="M212.5 185.3 V311.2 M373.5 185.3 V311.2 M51.1 227.5 H534.5 M51.1 269.5 H534.5" stroke="#ebebeb" stroke-width="1" fill="none"/>
<path d="M51.60 185.50 L52.10 188.88 L52.60 198.65 L53.10 209.03 L53.60 215.78 L54.10 220.14 L54.60 222.46 L55.10 224.07 L55.60 225.20 L56.10 226.06 L56.60 226.76 L57.10 227.36 L57.60 227.91 L58.10 228.37 L58.60 228.79 L59.10 229.27 L59.60 229.88 L60.10 230.61 L60.60 231.55 L61.10 232.89 L61.60 234.95 L62.10 237.26 L62.60 239.53 L63.10 241.96 L63.60 244.39 L64.10 246.63 L64.60 248.74 L65.10 250.76 L65.60 252.64 L66.10 254.37 L66.60 255.96 L67.10 257.45 L67.60 258.85 L68.10 260.20 L68.60 261.50 L69.10 262.73 L69.60 263.88 L70.10 264.97 L70.60 266.02 L71.10 266.98 L71.60 267.80 L72.10 268.51 L72.60 269.16 L73.10 269.75 L73.60 270.29 L74.10 270.75 L74.60 271.16 L75.10 271.53 L75.60 271.89 L76.10 272.22 L76.60 272.52 L77.10 272.78 L77.60 273.00 L78.10 273.17 L78.60 273.30 L79.10 273.42 L79.60 273.52 L80.10 273.61 L80.60 273.69 L81.10 273.76 L81.60 273.83 L82.10 273.89 L82.60 273.96 L83.10 274.03 L83.60 274.08 L84.10 274.14 L84.60 274.19 L85.10 274.24 L85.60 274.29 L86.10 274.36 L86.60 274.43 L87.10 274.52 L87.60 274.62 L88.10 274.74 L88.60 274.86 L89.10 274.99 L89.60 275.13 L90.10 275.27 L90.60 275.42 L91.10 275.58 L91.60 275.74 L92.10 275.90 L92.60 276.07 L93.10 276.26 L93.60 276.45 L94.10 276.66 L94.60 276.87 L95.10 277.09 L95.60 277.31 L96.10 277.54 L96.60 277.77 L97.10 278.00 L97.60 278.22 L98.10 278.44 L98.60 278.67 L99.10 278.91 L99.60 279.14 L100.10 279.39 L100.60 279.63 L101.10 279.87 L101.60 280.10 L102.10 280.33 L102.60 280.56 L103.10 280.77 L103.60 280.99 L104.10 281.20 L104.60 281.41 L105.10 281.62 L105.60 281.82 L106.10 282.02 L106.60 282.22 L107.10 282.41 L107.60 282.59 L108.10 282.76 L108.60 282.93 L109.10 283.10 L109.60 283.26 L110.10 283.42 L110.60 283.57 L111.10 283.72 L111.60 283.86 L112.10 284.00 L112.60 284.13 L113.10 284.26 L113.60 284.38 L114.10 284.49 L114.60 284.60 L115.10 284.71 L115.60 284.81 L116.10 284.91 L116.60 285.01 L117.10 285.11 L117.60 285.21 L118.10 285.31 L118.60 285.41 L119.10 285.51 L119.60 285.61 L120.00 285.70 L121.00 285.89 L122.00 286.09 L123.00 286.28 L124.00 286.45 L125.00 286.62 L126.00 286.79 L127.00 286.94 L128.00 287.10 L129.00 287.25 L130.00 287.39 L131.00 287.53 L132.00 287.67 L133.00 287.80 L134.00 287.93 L135.00 288.05 L136.00 288.16 L137.00 288.26 L138.00 288.36 L139.00 288.45 L140.00 288.54 L141.00 288.61 L142.00 288.69 L143.00 288.75 L144.00 288.81 L145.00 288.86 L146.00 288.91 L147.00 288.95 L148.00 288.98 L149.00 289.01 L150.00 289.04 L151.00 289.06 L152.00 289.08 L153.00 289.10 L154.00 289.11 L155.00 289.12 L156.00 289.13 L157.00 289.13 L158.00 289.13 L159.00 289.13 L160.00 289.13 L161.00 289.13 L162.00 289.12 L163.00 289.12 L164.00 289.11 L165.00 289.09 L166.00 289.08 L167.00 289.06 L168.00 289.05 L169.00 289.02 L170.00 289.00 L171.00 288.98 L172.00 288.95 L173.00 288.92 L174.00 288.89 L175.00 288.85 L176.00 288.82 L177.00 288.78 L178.00 288.74 L179.00 288.70 L180.00 288.66 L181.00 288.61 L182.00 288.57 L183.00 288.52 L184.00 288.48 L185.00 288.43 L186.00 288.39 L187.00 288.34 L188.00 288.29 L189.00 288.24 L190.00 288.20 L191.00 288.15 L192.00 288.10 L193.00 288.06 L194.00 288.01 L195.00 287.96 L196.00 287.92 L197.00 287.87 L198.00 287.83 L199.00 287.78 L200.00 287.73 L201.00 287.68 L202.00 287.64 L203.00 287.59 L204.00 287.54 L205.00 287.48 L206.00 287.43 L207.00 287.38 L208.00 287.32 L209.00 287.26 L210.00 287.20 L211.00 287.14 L212.00 287.07 L213.00 287.01 L214.00 286.94 L215.00 286.87 L216.00 286.80 L217.00 286.72 L218.00 286.64 L219.00 286.56 L220.00 286.48 L221.00 286.40 L222.00 286.32 L223.00 286.23 L224.00 286.15 L225.00 286.06 L226.00 285.98 L227.00 285.89 L228.00 285.80 L229.00 285.72 L230.00 285.63 L231.00 285.54 L232.00 285.46 L233.00 285.37 L234.00 285.29 L235.00 285.20 L236.00 285.12 L237.00 285.04 L238.00 284.96 L239.00 284.88 L240.00 284.80 L241.00 284.72 L242.00 284.65 L243.00 284.57 L244.00 284.50 L245.00 284.43 L246.00 284.35 L247.00 284.28 L248.00 284.21 L249.00 284.14 L250.00 284.08 L251.00 284.01 L252.00 283.94 L253.00 283.88 L254.00 283.81 L255.00 283.75 L256.00 283.69 L257.00 283.62 L258.00 283.56 L259.00 283.50 L260.00 283.44 L261.00 283.37 L262.00 283.31 L263.00 283.25 L264.00 283.19 L265.00 283.13 L266.00 283.08 L267.00 283.02 L268.00 282.96 L269.00 282.91 L270.00 282.85 L271.00 282.80 L272.00 282.74 L273.00 282.69 L274.00 282.64 L275.00 282.59 L276.00 282.54 L277.00 282.49 L278.00 282.44 L279.00 282.40 L280.00 282.35 L281.00 282.31 L282.00 282.27 L283.00 282.22 L284.00 282.18 L285.00 282.14 L286.00 282.10 L287.00 282.06 L288.00 282.02 L289.00 281.98 L290.00 281.95 L291.00 281.91 L292.00 281.87 L293.00 281.83 L294.00 281.80 L295.00 281.76 L296.00 281.73 L297.00 281.69 L298.00 281.66 L299.00 281.63 L300.00 281.59 L301.00 281.56 L302.00 281.53 L303.00 281.50 L304.00 281.47 L305.00 281.44 L306.00 281.41 L307.00 281.38 L308.00 281.35 L309.00 281.32 L310.00 281.30 L311.00 281.27 L312.00 281.25 L313.00 281.22 L314.00 281.20 L315.00 281.18 L316.00 281.16 L317.00 281.14 L318.00 281.12 L319.00 281.10 L320.00 281.08 L321.00 281.06 L322.00 281.05 L323.00 281.03 L324.00 281.02 L325.00 281.00 L326.00 280.99 L327.00 280.97 L328.00 280.96 L329.00 280.95 L330.00 280.94 L331.00 280.92 L332.00 280.91 L333.00 280.90 L334.00 280.89 L335.00 280.88 L336.00 280.88 L337.00 280.87 L338.00 280.86 L339.00 280.85 L340.00 280.85 L341.00 280.84 L342.00 280.84 L343.00 280.83 L344.00 280.83 L345.00 280.82 L346.00 280.82 L347.00 280.82 L348.00 280.81 L349.00 280.81 L350.00 280.81 L351.00 280.81 L352.00 280.81 L353.00 280.81 L354.00 280.80 L355.00 280.80 L356.00 280.80 L357.00 280.80 L358.00 280.80 L359.00 280.80 L360.00 280.80 L361.00 280.80 L362.00 280.80 L363.00 280.80 L364.00 280.80 L365.00 280.80 L366.00 280.80 L367.00 280.81 L368.00 280.81 L369.00 280.81 L370.00 280.81 L371.00 280.81 L372.00 280.81 L373.00 280.82 L374.00 280.82 L375.00 280.82 L376.00 280.83 L377.00 280.83 L378.00 280.83 L379.00 280.84 L380.00 280.84 L381.00 280.85 L382.00 280.85 L383.00 280.86 L384.00 280.86 L385.00 280.87 L386.00 280.87 L387.00 280.88 L388.00 280.88 L389.00 280.89 L390.00 280.90 L391.00 280.90 L392.00 280.91 L393.00 280.91 L394.00 280.92 L395.00 280.92 L396.00 280.93 L397.00 280.94 L398.00 280.94 L399.00 280.95 L400.00 280.95 L401.00 280.96 L402.00 280.96 L403.00 280.97 L404.00 280.97 L405.00 280.98 L406.00 280.98 L407.00 280.99 L408.00 280.99 L409.00 281.00 L410.00 281.00 L411.00 281.01 L412.00 281.01 L413.00 281.02 L414.00 281.02 L415.00 281.03 L416.00 281.03 L417.00 281.04 L418.00 281.04 L419.00 281.05 L420.00 281.05 L421.00 281.06 L422.00 281.06 L423.00 281.07 L424.00 281.07 L425.00 281.08 L426.00 281.08 L427.00 281.09 L428.00 281.09 L429.00 281.09 L430.00 281.10 L431.00 281.10 L432.00 281.11 L433.00 281.11 L434.00 281.12 L435.00 281.12 L436.00 281.13 L437.00 281.13 L438.00 281.13 L439.00 281.14 L440.00 281.14 L441.00 281.15 L442.00 281.15 L443.00 281.15 L444.00 281.16 L445.00 281.16 L446.00 281.17 L447.00 281.17 L448.00 281.18 L449.00 281.18 L450.00 281.18 L451.00 281.19 L452.00 281.19 L453.00 281.20 L454.00 281.20 L455.00 281.20 L456.00 281.21 L457.00 281.21 L458.00 281.22 L459.00 281.22 L460.00 281.22 L461.00 281.23 L462.00 281.23 L463.00 281.23 L464.00 281.24 L465.00 281.24 L466.00 281.25 L467.00 281.25 L468.00 281.25 L469.00 281.26 L470.00 281.26 L471.00 281.27 L472.00 281.27 L473.00 281.27 L474.00 281.28 L475.00 281.28 L476.00 281.28 L477.00 281.29 L478.00 281.29 L479.00 281.30 L480.00 281.30 L481.00 281.30 L482.00 281.31 L483.00 281.31 L484.00 281.32 L485.00 281.32 L486.00 281.32 L487.00 281.33 L488.00 281.33 L489.00 281.33 L490.00 281.34 L491.00 281.34 L492.00 281.35 L493.00 281.35 L494.00 281.35 L495.00 281.36 L496.00 281.36 L497.00 281.36 L498.00 281.37 L499.00 281.37 L500.00 281.38 L501.00 281.38 L502.00 281.38 L503.00 281.39 L504.00 281.39 L505.00 281.39 L506.00 281.40 L507.00 281.40 L508.00 281.40 L509.00 281.41 L510.00 281.41 L511.00 281.42 L512.00 281.42 L513.00 281.42 L514.00 281.43 L515.00 281.43 L516.00 281.43 L517.00 281.44 L518.00 281.44 L519.00 281.44 L520.00 281.45 L521.00 281.45 L522.00 281.46 L523.00 281.46 L524.00 281.46 L525.00 281.47 L526.00 281.47 L527.00 281.47 L528.00 281.48 L529.00 281.48 L530.00 281.48 L531.00 281.49 L532.00 281.49 L533.00 281.49 L534.00 281.50 L534.50 281.50" fill="none" stroke="#3c3c3c" stroke-width="1.1"/>
<path d="M51.60 185.50 L52.10 188.88 L52.60 198.65 L53.10 209.03 L53.60 215.78 L54.10 220.14 L54.60 222.46 L55.10 224.07 L55.60 225.20 L56.10 226.06 L56.60 226.76 L57.10 227.36 L57.60 227.91 L58.10 228.37 L58.60 228.79 L59.10 229.27 L59.60 229.89 L60.10 230.67 L60.60 231.59 L61.10 232.70 L61.60 234.09 L62.10 235.69 L62.60 237.40 L63.10 239.13 L63.60 240.82 L64.10 242.62 L64.60 244.47 L65.10 246.30 L65.60 248.04 L66.10 249.66 L66.60 251.22 L67.10 252.72 L67.60 254.16 L68.10 255.52 L68.60 256.80 L69.10 258.01 L69.60 259.15 L70.10 260.24 L70.60 261.29 L71.10 262.31 L71.60 263.33 L72.10 264.33 L72.60 265.26 L73.10 266.08 L73.60 266.76 L74.10 267.36 L74.60 267.92 L75.10 268.44 L75.60 268.92 L76.10 269.36 L76.60 269.77 L77.10 270.15 L77.60 270.51 L78.10 270.84 L78.60 271.15 L79.10 271.44 L79.60 271.72 L80.10 271.97 L80.60 272.21 L81.10 272.45 L81.60 272.66 L82.10 272.87 L82.60 273.06 L83.10 273.24 L83.60 273.42 L84.10 273.60 L84.60 273.77 L85.10 273.94 L85.60 274.11 L86.10 274.29 L86.60 274.47 L87.10 274.65 L87.60 274.83 L88.10 275.00 L88.60 275.17 L89.10 275.34 L89.60 275.51 L90.10 275.70 L90.60 275.89 L91.10 276.09 L91.60 276.31 L92.10 276.54 L92.60 276.80 L93.10 277.07 L93.60 277.36 L94.10 277.66 L94.60 277.98 L95.10 278.30 L95.60 278.64 L96.10 278.98 L96.60 279.32 L97.10 279.67 L97.60 280.02 L98.10 280.37 L98.60 280.73 L99.10 281.11 L99.60 281.50 L100.10 281.89 L100.60 282.29 L101.10 282.69 L101.60 283.08 L102.10 283.46 L102.60 283.83 L103.10 284.18 L103.60 284.53 L104.10 284.87 L104.60 285.21 L105.10 285.55 L105.60 285.88 L106.10 286.20 L106.60 286.52 L107.10 286.83 L107.60 287.14 L108.10 287.44 L108.60 287.73 L109.10 288.02 L109.60 288.30 L110.10 288.58 L110.60 288.85 L111.10 289.12 L111.60 289.38 L112.10 289.64 L112.60 289.89 L113.10 290.14 L113.60 290.38 L114.10 290.61 L114.60 290.84 L115.10 291.07 L115.60 291.29 L116.10 291.51 L116.60 291.73 L117.10 291.94 L117.60 292.16 L118.10 292.38 L118.60 292.59 L119.10 292.81 L119.60 293.02 L120.00 293.19 L121.00 293.62 L122.00 294.03 L123.00 294.43 L124.00 294.83 L125.00 295.21 L126.00 295.58 L127.00 295.94 L128.00 296.30 L129.00 296.66 L130.00 297.01 L131.00 297.35 L132.00 297.69 L133.00 298.03 L134.00 298.35 L135.00 298.66 L136.00 298.96 L137.00 299.25 L138.00 299.53 L139.00 299.80 L140.00 300.05 L141.00 300.30 L142.00 300.53 L143.00 300.75 L144.00 300.96 L145.00 301.16 L146.00 301.36 L147.00 301.54 L148.00 301.71 L149.00 301.88 L150.00 302.03 L151.00 302.18 L152.00 302.32 L153.00 302.45 L154.00 302.57 L155.00 302.69 L156.00 302.80 L157.00 302.90 L158.00 302.99 L159.00 303.08 L160.00 303.17 L161.00 303.25 L162.00 303.33 L163.00 303.40 L164.00 303.46 L165.00 303.52 L166.00 303.57 L167.00 303.62 L168.00 303.66 L169.00 303.69 L170.00 303.72 L171.00 303.74 L172.00 303.75 L173.00 303.77 L174.00 303.77 L175.00 303.77 L176.00 303.77 L177.00 303.76 L178.00 303.74 L179.00 303.72 L180.00 303.69 L181.00 303.66 L182.00 303.63 L183.00 303.59 L184.00 303.54 L185.00 303.49 L186.00 303.44 L187.00 303.38 L188.00 303.32 L189.00 303.25 L190.00 303.19 L191.00 303.11 L192.00 303.04 L193.00 302.96 L194.00 302.88 L195.00 302.79 L196.00 302.70 L197.00 302.61 L198.00 302.52 L199.00 302.43 L200.00 302.33 L201.00 302.23 L202.00 302.13 L203.00 302.02 L204.00 301.92 L205.00 301.81 L206.00 301.70 L207.00 301.59 L208.00 301.48 L209.00 301.36 L210.00 301.25 L211.00 301.13 L212.00 301.01 L213.00 300.89 L214.00 300.76 L215.00 300.63 L216.00 300.50 L217.00 300.37 L218.00 300.24 L219.00 300.10 L220.00 299.97 L221.00 299.83 L222.00 299.68 L223.00 299.54 L224.00 299.39 L225.00 299.24 L226.00 299.09 L227.00 298.94 L228.00 298.78 L229.00 298.63 L230.00 298.47 L231.00 298.31 L232.00 298.14 L233.00 297.97 L234.00 297.81 L235.00 297.64 L236.00 297.46 L237.00 297.29 L238.00 297.11 L239.00 296.94 L240.00 296.76 L241.00 296.57 L242.00 296.39 L243.00 296.21 L244.00 296.02 L245.00 295.83 L246.00 295.65 L247.00 295.46 L248.00 295.27 L249.00 295.08 L250.00 294.89 L251.00 294.70 L252.00 294.51 L253.00 294.32 L254.00 294.13 L255.00 293.94 L256.00 293.76 L257.00 293.57 L258.00 293.39 L259.00 293.21 L260.00 293.03 L261.00 292.85 L262.00 292.67 L263.00 292.50 L264.00 292.32 L265.00 292.15 L266.00 291.99 L267.00 291.82 L268.00 291.66 L269.00 291.49 L270.00 291.34 L271.00 291.18 L272.00 291.02 L273.00 290.87 L274.00 290.72 L275.00 290.57 L276.00 290.42 L277.00 290.27 L278.00 290.13 L279.00 289.98 L280.00 289.84 L281.00 289.70 L282.00 289.56 L283.00 289.42 L284.00 289.29 L285.00 289.15 L286.00 289.02 L287.00 288.89 L288.00 288.76 L289.00 288.63 L290.00 288.50 L291.00 288.37 L292.00 288.25 L293.00 288.12 L294.00 288.00 L295.00 287.88 L296.00 287.77 L297.00 287.65 L298.00 287.54 L299.00 287.43 L300.00 287.32 L301.00 287.21 L302.00 287.11 L303.00 287.01 L304.00 286.92 L305.00 286.82 L306.00 286.73 L307.00 286.64 L308.00 286.55 L309.00 286.47 L310.00 286.38 L311.00 286.30 L312.00 286.22 L313.00 286.15 L314.00 286.07 L315.00 286.00 L316.00 285.93 L317.00 285.86 L318.00 285.79 L319.00 285.72 L320.00 285.65 L321.00 285.59 L322.00 285.52 L323.00 285.46 L324.00 285.40 L325.00 285.34 L326.00 285.28 L327.00 285.22 L328.00 285.16 L329.00 285.11 L330.00 285.05 L331.00 285.00 L332.00 284.95 L333.00 284.90 L334.00 284.85 L335.00 284.80 L336.00 284.75 L337.00 284.71 L338.00 284.67 L339.00 284.62 L340.00 284.58 L341.00 284.55 L342.00 284.51 L343.00 284.47 L344.00 284.44 L345.00 284.40 L346.00 284.37 L347.00 284.34 L348.00 284.31 L349.00 284.28 L350.00 284.25 L351.00 284.23 L352.00 284.20 L353.00 284.18 L354.00 284.15 L355.00 284.13 L356.00 284.11 L357.00 284.09 L358.00 284.07 L359.00 284.05 L360.00 284.03 L361.00 284.01 L362.00 283.99 L363.00 283.98 L364.00 283.96 L365.00 283.95 L366.00 283.93 L367.00 283.92 L368.00 283.90 L369.00 283.89 L370.00 283.88 L371.00 283.87 L372.00 283.86 L373.00 283.85 L374.00 283.85 L375.00 283.84 L376.00 283.83 L377.00 283.83 L378.00 283.82 L379.00 283.82 L380.00 283.82 L381.00 283.81 L382.00 283.81 L383.00 283.81 L384.00 283.81 L385.00 283.81 L386.00 283.81 L387.00 283.81 L388.00 283.81 L389.00 283.81 L390.00 283.82 L391.00 283.82 L392.00 283.82 L393.00 283.83 L394.00 283.83 L395.00 283.83 L396.00 283.84 L397.00 283.84 L398.00 283.85 L399.00 283.86 L400.00 283.86 L401.00 283.87 L402.00 283.88 L403.00 283.89 L404.00 283.89 L405.00 283.90 L406.00 283.91 L407.00 283.92 L408.00 283.93 L409.00 283.94 L410.00 283.95 L411.00 283.96 L412.00 283.98 L413.00 283.99 L414.00 284.00 L415.00 284.01 L416.00 284.02 L417.00 284.04 L418.00 284.05 L419.00 284.06 L420.00 284.07 L421.00 284.09 L422.00 284.10 L423.00 284.11 L424.00 284.12 L425.00 284.14 L426.00 284.15 L427.00 284.16 L428.00 284.17 L429.00 284.19 L430.00 284.20 L431.00 284.21 L432.00 284.23 L433.00 284.24 L434.00 284.25 L435.00 284.27 L436.00 284.28 L437.00 284.29 L438.00 284.31 L439.00 284.32 L440.00 284.33 L441.00 284.35 L442.00 284.36 L443.00 284.37 L444.00 284.39 L445.00 284.40 L446.00 284.42 L447.00 284.43 L448.00 284.44 L449.00 284.46 L450.00 284.47 L451.00 284.49 L452.00 284.50 L453.00 284.52 L454.00 284.53 L455.00 284.55 L456.00 284.56 L457.00 284.58 L458.00 284.59 L459.00 284.60 L460.00 284.62 L461.00 284.63 L462.00 284.65 L463.00 284.66 L464.00 284.68 L465.00 284.69 L466.00 284.71 L467.00 284.72 L468.00 284.73 L469.00 284.75 L470.00 284.76 L471.00 284.78 L472.00 284.79 L473.00 284.80 L474.00 284.82 L475.00 284.83 L476.00 284.84 L477.00 284.86 L478.00 284.87 L479.00 284.88 L480.00 284.90 L481.00 284.91 L482.00 284.92 L483.00 284.93 L484.00 284.95 L485.00 284.96 L486.00 284.97 L487.00 284.98 L488.00 285.00 L489.00 285.01 L490.00 285.02 L491.00 285.03 L492.00 285.04 L493.00 285.05 L494.00 285.07 L495.00 285.08 L496.00 285.09 L497.00 285.10 L498.00 285.11 L499.00 285.12 L500.00 285.14 L501.00 285.15 L502.00 285.16 L503.00 285.17 L504.00 285.18 L505.00 285.19 L506.00 285.20 L507.00 285.21 L508.00 285.23 L509.00 285.24 L510.00 285.25 L511.00 285.26 L512.00 285.27 L513.00 285.28 L514.00 285.29 L515.00 285.30 L516.00 285.31 L517.00 285.32 L518.00 285.33 L519.00 285.34 L520.00 285.35 L521.00 285.36 L522.00 285.37 L523.00 285.39 L524.00 285.40 L525.00 285.41 L526.00 285.42 L527.00 285.43 L528.00 285.44 L529.00 285.45 L530.00 285.46 L531.00 285.47 L532.00 285.48 L533.00 285.49 L534.00 285.50 L534.50 285.50" fill="none" stroke="#3a3a3a" stroke-width="1.15" stroke-dasharray="0.95 1.5"/>
<path d="M51.60 185.50 L52.10 188.88 L52.60 198.65 L53.10 209.03 L53.60 215.78 L54.10 220.14 L54.60 222.46 L55.10 224.07 L55.60 225.20 L56.10 226.06 L56.60 226.76 L57.10 227.36 L57.60 227.91 L58.10 228.37 L58.60 228.79 L59.10 229.27 L59.60 229.86 L60.10 230.51 L60.60 231.47 L61.10 233.72 L61.60 238.39 L62.10 241.98 L62.60 245.00 L63.10 247.70 L63.60 250.13 L64.10 252.37 L64.60 254.46 L65.10 256.40 L65.60 258.21 L66.10 259.91 L66.60 261.54 L67.10 263.08 L67.60 264.50 L68.10 265.79 L68.60 266.95 L69.10 268.02 L69.60 269.01 L70.10 269.90 L70.60 270.69 L71.10 271.36 L71.60 271.96 L72.10 272.52 L72.60 273.00 L73.10 273.40 L73.60 273.72 L74.10 274.02 L74.60 274.31 L75.10 274.57 L75.60 274.80 L76.10 274.99 L76.60 275.13 L77.10 275.19 L77.60 275.20 L78.10 275.20 L78.60 275.20 L79.10 275.20 L79.60 275.20 L80.10 275.20 L80.60 275.20 L81.10 275.20 L81.60 275.17 L82.10 275.11 L82.60 275.03 L83.10 274.93 L83.60 274.82 L84.10 274.71 L84.60 274.61 L85.10 274.52 L85.60 274.45 L86.10 274.41 L86.60 274.40 L87.10 274.45 L87.60 274.53 L88.10 274.65 L88.60 274.80 L89.10 274.96 L89.60 275.14 L90.10 275.33 L90.60 275.51 L91.10 275.68 L91.60 275.84 L92.10 275.98 L92.60 276.12 L93.10 276.27 L93.60 276.41 L94.10 276.55 L94.60 276.69 L95.10 276.84 L95.60 276.98 L96.10 277.11 L96.60 277.25 L97.10 277.38 L97.60 277.50 L98.10 277.62 L98.60 277.74 L99.10 277.86 L99.60 277.97 L100.10 278.08 L100.60 278.18 L101.10 278.29 L101.60 278.39 L102.10 278.49 L102.60 278.58 L103.10 278.67 L103.60 278.76 L104.10 278.85 L104.60 278.94 L105.10 279.03 L105.60 279.11 L106.10 279.19 L106.60 279.27 L107.10 279.35 L107.60 279.42 L108.10 279.49 L108.60 279.55 L109.10 279.62 L109.60 279.68 L110.10 279.74 L110.60 279.80 L111.10 279.86 L111.60 279.91 L112.10 279.96 L112.60 280.01 L113.10 280.05 L113.60 280.09 L114.10 280.12 L114.60 280.16 L115.10 280.19 L115.60 280.22 L116.10 280.25 L116.60 280.27 L117.10 280.30 L117.60 280.33 L118.10 280.35 L118.60 280.37 L119.10 280.40 L119.60 280.42 L120.00 280.44 L121.00 280.48 L122.00 280.51 L123.00 280.53 L124.00 280.55 L125.00 280.57 L126.00 280.58 L127.00 280.58 L128.00 280.58 L129.00 280.58 L130.00 280.58 L131.00 280.57 L132.00 280.57 L133.00 280.56 L134.00 280.55 L135.00 280.54 L136.00 280.53 L137.00 280.52 L138.00 280.51 L139.00 280.50 L140.00 280.49 L141.00 280.48 L142.00 280.48 L143.00 280.47 L144.00 280.46 L145.00 280.45 L146.00 280.44 L147.00 280.44 L148.00 280.43 L149.00 280.42 L150.00 280.41 L151.00 280.40 L152.00 280.40 L153.00 280.39 L154.00 280.38 L155.00 280.37 L156.00 280.35 L157.00 280.34 L158.00 280.33 L159.00 280.31 L160.00 280.30 L161.00 280.28 L162.00 280.27 L163.00 280.25 L164.00 280.23 L165.00 280.21 L166.00 280.19 L167.00 280.17 L168.00 280.15 L169.00 280.12 L170.00 280.10 L171.00 280.07 L172.00 280.05 L173.00 280.02 L174.00 279.99 L175.00 279.96 L176.00 279.93 L177.00 279.90 L178.00 279.87 L179.00 279.84 L180.00 279.81 L181.00 279.78 L182.00 279.74 L183.00 279.71 L184.00 279.68 L185.00 279.65 L186.00 279.62 L187.00 279.59 L188.00 279.56 L189.00 279.54 L190.00 279.51 L191.00 279.48 L192.00 279.45 L193.00 279.43 L194.00 279.40 L195.00 279.38 L196.00 279.35 L197.00 279.33 L198.00 279.31 L199.00 279.28 L200.00 279.26 L201.00 279.24 L202.00 279.21 L203.00 279.19 L204.00 279.17 L205.00 279.15 L206.00 279.13 L207.00 279.10 L208.00 279.08 L209.00 279.06 L210.00 279.04 L211.00 279.02 L212.00 278.99 L213.00 278.97 L214.00 278.95 L215.00 278.93 L216.00 278.91 L217.00 278.88 L218.00 278.86 L219.00 278.84 L220.00 278.82 L221.00 278.80 L222.00 278.78 L223.00 278.76 L224.00 278.74 L225.00 278.72 L226.00 278.70 L227.00 278.68 L228.00 278.66 L229.00 278.64 L230.00 278.62 L231.00 278.61 L232.00 278.59 L233.00 278.57 L234.00 278.55 L235.00 278.54 L236.00 278.52 L237.00 278.51 L238.00 278.49 L239.00 278.48 L240.00 278.46 L241.00 278.45 L242.00 278.43 L243.00 278.42 L244.00 278.41 L245.00 278.39 L246.00 278.38 L247.00 278.36 L248.00 278.35 L249.00 278.34 L250.00 278.32 L251.00 278.31 L252.00 278.29 L253.00 278.28 L254.00 278.26 L255.00 278.25 L256.00 278.23 L257.00 278.21 L258.00 278.20 L259.00 278.18 L260.00 278.17 L261.00 278.15 L262.00 278.13 L263.00 278.11 L264.00 278.09 L265.00 278.08 L266.00 278.06 L267.00 278.04 L268.00 278.02 L269.00 278.00 L270.00 277.98 L271.00 277.96 L272.00 277.94 L273.00 277.92 L274.00 277.90 L275.00 277.88 L276.00 277.86 L277.00 277.83 L278.00 277.81 L279.00 277.79 L280.00 277.77 L281.00 277.75 L282.00 277.73 L283.00 277.71 L284.00 277.69 L285.00 277.67 L286.00 277.65 L287.00 277.63 L288.00 277.61 L289.00 277.59 L290.00 277.57 L291.00 277.55 L292.00 277.53 L293.00 277.51 L294.00 277.49 L295.00 277.47 L296.00 277.45 L297.00 277.43 L298.00 277.42 L299.00 277.40 L300.00 277.38 L301.00 277.36 L302.00 277.34 L303.00 277.33 L304.00 277.31 L305.00 277.29 L306.00 277.28 L307.00 277.26 L308.00 277.24 L309.00 277.23 L310.00 277.21 L311.00 277.20 L312.00 277.18 L313.00 277.17 L314.00 277.16 L315.00 277.14 L316.00 277.13 L317.00 277.12 L318.00 277.11 L319.00 277.10 L320.00 277.08 L321.00 277.07 L322.00 277.06 L323.00 277.05 L324.00 277.04 L325.00 277.03 L326.00 277.03 L327.00 277.02 L328.00 277.01 L329.00 277.00 L330.00 276.99 L331.00 276.98 L332.00 276.98 L333.00 276.97 L334.00 276.96 L335.00 276.96 L336.00 276.95 L337.00 276.95 L338.00 276.94 L339.00 276.94 L340.00 276.93 L341.00 276.93 L342.00 276.92 L343.00 276.92 L344.00 276.92 L345.00 276.92 L346.00 276.91 L347.00 276.91 L348.00 276.91 L349.00 276.91 L350.00 276.91 L351.00 276.91 L352.00 276.90 L353.00 276.90 L354.00 276.90 L355.00 276.90 L356.00 276.90 L357.00 276.90 L358.00 276.90 L359.00 276.90 L360.00 276.90 L361.00 276.90 L362.00 276.90 L363.00 276.90 L364.00 276.90 L365.00 276.90 L366.00 276.91 L367.00 276.91 L368.00 276.91 L369.00 276.91 L370.00 276.91 L371.00 276.91 L372.00 276.92 L373.00 276.92 L374.00 276.92 L375.00 276.92 L376.00 276.93 L377.00 276.93 L378.00 276.93 L379.00 276.94 L380.00 276.94 L381.00 276.95 L382.00 276.95 L383.00 276.95 L384.00 276.96 L385.00 276.96 L386.00 276.96 L387.00 276.97 L388.00 276.97 L389.00 276.97 L390.00 276.97 L391.00 276.97 L392.00 276.97 L393.00 276.97 L394.00 276.97 L395.00 276.97 L396.00 276.97 L397.00 276.97 L398.00 276.97 L399.00 276.97 L400.00 276.96 L401.00 276.96 L402.00 276.96 L403.00 276.95 L404.00 276.95 L405.00 276.95 L406.00 276.94 L407.00 276.94 L408.00 276.93 L409.00 276.93 L410.00 276.92 L411.00 276.92 L412.00 276.91 L413.00 276.90 L414.00 276.90 L415.00 276.89 L416.00 276.89 L417.00 276.88 L418.00 276.87 L419.00 276.87 L420.00 276.86 L421.00 276.86 L422.00 276.85 L423.00 276.84 L424.00 276.84 L425.00 276.83 L426.00 276.83 L427.00 276.82 L428.00 276.81 L429.00 276.81 L430.00 276.80 L431.00 276.79 L432.00 276.79 L433.00 276.78 L434.00 276.78 L435.00 276.77 L436.00 276.76 L437.00 276.76 L438.00 276.75 L439.00 276.75 L440.00 276.74 L441.00 276.73 L442.00 276.73 L443.00 276.72 L444.00 276.71 L445.00 276.71 L446.00 276.70 L447.00 276.70 L448.00 276.69 L449.00 276.68 L450.00 276.68 L451.00 276.67 L452.00 276.66 L453.00 276.66 L454.00 276.65 L455.00 276.65 L456.00 276.64 L457.00 276.63 L458.00 276.63 L459.00 276.62 L460.00 276.61 L461.00 276.61 L462.00 276.60 L463.00 276.60 L464.00 276.59 L465.00 276.58 L466.00 276.58 L467.00 276.57 L468.00 276.57 L469.00 276.56 L470.00 276.56 L471.00 276.55 L472.00 276.54 L473.00 276.54 L474.00 276.53 L475.00 276.53 L476.00 276.52 L477.00 276.52 L478.00 276.51 L479.00 276.51 L480.00 276.50 L481.00 276.50 L482.00 276.49 L483.00 276.49 L484.00 276.48 L485.00 276.48 L486.00 276.47 L487.00 276.47 L488.00 276.47 L489.00 276.46 L490.00 276.46 L491.00 276.45 L492.00 276.45 L493.00 276.44 L494.00 276.44 L495.00 276.44 L496.00 276.43 L497.00 276.43 L498.00 276.42 L499.00 276.42 L500.00 276.42 L501.00 276.41 L502.00 276.41 L503.00 276.40 L504.00 276.40 L505.00 276.40 L506.00 276.39 L507.00 276.39 L508.00 276.38 L509.00 276.38 L510.00 276.38 L511.00 276.37 L512.00 276.37 L513.00 276.37 L514.00 276.36 L515.00 276.36 L516.00 276.36 L517.00 276.35 L518.00 276.35 L519.00 276.35 L520.00 276.34 L521.00 276.34 L522.00 276.34 L523.00 276.33 L524.00 276.33 L525.00 276.33 L526.00 276.32 L527.00 276.32 L528.00 276.32 L529.00 276.32 L530.00 276.31 L531.00 276.31 L532.00 276.31 L533.00 276.30 L534.00 276.30 L534.50 276.30" fill="none" stroke="#3c3c3c" stroke-width="1.15" stroke-dasharray="6.3 3.7"/>
<path d="M212.5 311.2 v-5 M212.5 185.3 v5 M373.5 311.2 v-5 M373.5 185.3 v5 M51.1 227.5 h5 M534.5 227.5 h-5 M51.1 269.5 h5 M534.5 269.5 h-5" stroke="#555" stroke-width="0.9" fill="none"/>
<rect x="51.1" y="185.3" width="483.4" height="125.9" fill="none" stroke="#707070" stroke-width="1.25"/>
<g font-family="'Liberation Sans', Arial, sans-serif" font-size="8.2" fill="#444">
<text x="46.8" y="188.3" text-anchor="end">10</text>
<text x="46.8" y="230.3" text-anchor="end">5</text>
<text x="46.8" y="272.2" text-anchor="end">0</text>
<text x="46.8" y="314.2" text-anchor="end">-5</text>
<text x="51.1" y="323.2" text-anchor="middle">0</text>
<text x="212.2" y="323.2" text-anchor="middle">5</text>
<text x="373.4" y="323.2" text-anchor="middle">10</text>
<text x="534.5" y="323.2" text-anchor="middle">15</text>
</g>
<text x="261.9" y="340.6" font-family="'Liberation Serif', 'Times New Roman', serif" font-size="18.8" fill="#222" textLength="37.2" lengthAdjust="spacingAndGlyphs">Time</text>
<text x="306.0" y="340.6" font-family="'Liberation Serif', 'Times New Roman', serif" font-size="18.8" fill="#222" textLength="16.4" lengthAdjust="spacingAndGlyphs">(s)</text>
<text transform="translate(28.4 316.4) rotate(-90)" font-family="'Liberation Serif', 'Times New Roman', serif" font-size="19.3" fill="#222" textLength="101.4" lengthAdjust="spacingAndGlyphs">Control signal</text>
<text transform="translate(28.4 208.8) rotate(-90)" font-family="'Liberation Serif', 'Times New Roman', serif" font-size="19.3" fill="#222" textLength="28.2" lengthAdjust="spacingAndGlyphs"><tspan font-style="italic">u</tspan>(<tspan font-style="italic">t</tspan>)</text>
<rect x="388.6" y="193.4" width="137.4" height="48" fill="#fff" stroke="#555" stroke-width="0.9"/>
<path d="M390.8 202.4 H416.5" fill="none" stroke="#3c3c3c" stroke-width="1.1"/>
<text x="418.6" y="206.8" font-family="'Liberation Sans', Arial, sans-serif" font-size="12.5" fill="#222">0% Variation</text>
<path d="M390.8 217.8 H416.5" fill="none" stroke="#3a3a3a" stroke-width="1.15" stroke-dasharray="0.95 1.5"/>
<text x="418.6" y="222.2" font-family="'Liberation Sans', Arial, sans-serif" font-size="12.5" fill="#222">20% Upwards</text>
<path d="M390.8 233.2 H416.5" fill="none" stroke="#3c3c3c" stroke-width="1.15" stroke-dasharray="6.3 3.7"/>
<text x="418.6" y="237.6" font-family="'Liberation Sans', Arial, sans-serif" font-size="12.5" fill="#222">20% Downwards</text>
</g>
<g>
<path d="M212.5 364.0 V489.8 M373.5 364.0 V489.8 M51.1 389.5 H534.5 M51.1 414.5 H534.5 M51.1 439.5 H534.5 M51.1 464.5 H534.5" stroke="#ebebeb" stroke-width="1" fill="none"/>
<path d="M51.5 414.4 L534.5 414.4" fill="none" stroke="#3c3c3c" stroke-width="1.1"/>
<path d="M59.40 414.30 L59.90 409.88 L60.40 405.39 L60.90 400.67 L61.40 396.41 L61.90 392.63 L62.40 389.60 L62.90 387.39 L63.40 385.65 L63.90 384.29 L64.40 383.34 L64.90 383.79 L65.40 385.27 L65.90 386.80 L66.40 388.07 L66.90 389.32 L67.40 390.40 L67.90 391.27 L68.40 392.04 L68.90 392.76 L69.40 393.47 L69.90 394.17 L70.40 394.84 L70.90 395.48 L71.40 396.09 L71.90 396.67 L72.40 397.23 L72.90 397.78 L73.40 398.33 L73.90 398.89 L74.40 399.45 L74.90 400.01 L75.40 400.58 L75.90 401.14 L76.40 401.70 L76.90 402.26 L77.40 402.82 L77.90 403.38 L78.40 403.94 L78.90 404.50 L79.40 405.06 L79.90 405.63 L80.40 406.19 L80.90 406.76 L81.40 407.33 L81.90 407.91 L82.40 408.48 L82.90 409.05 L83.40 409.61 L83.90 410.17 L84.40 410.73 L84.90 411.27 L85.40 411.80 L85.90 412.31 L86.40 412.80 L86.90 413.28 L87.40 413.77 L87.90 414.28 L88.40 414.82 L88.90 415.39 L89.40 415.98 L89.90 416.59 L90.40 417.21 L90.90 417.84 L91.40 418.47 L91.90 419.10 L92.40 419.73 L92.90 420.34 L93.40 420.94 L93.90 421.51 L94.40 422.08 L94.90 422.63 L95.40 423.18 L95.90 423.72 L96.40 424.25 L96.90 424.78 L97.40 425.31 L97.90 425.83 L98.40 426.35 L98.90 426.87 L99.40 427.38 L99.90 427.90 L100.40 428.41 L100.90 428.92 L101.40 429.42 L101.90 429.92 L102.40 430.41 L102.90 430.91 L103.40 431.40 L103.90 431.90 L104.40 432.40 L104.90 432.90 L105.40 433.41 L105.90 433.92 L106.40 434.43 L106.90 434.93 L107.40 435.44 L107.90 435.95 L108.40 436.45 L108.90 436.95 L109.40 437.45 L109.90 437.94 L110.40 438.43 L110.90 438.92 L111.40 439.40 L111.90 439.88 L112.40 440.36 L112.90 440.83 L113.40 441.30 L113.90 441.77 L114.40 442.24 L114.90 442.70 L115.40 443.16 L115.90 443.61 L116.40 444.05 L116.90 444.49 L117.40 444.92 L117.90 445.35 L118.40 445.77 L118.90 446.18 L119.40 446.58 L119.90 446.98 L120.00 447.06 L121.00 447.83 L122.00 448.59 L123.00 449.32 L124.00 450.03 L125.00 450.73 L126.00 451.40 L127.00 452.06 L128.00 452.71 L129.00 453.34 L130.00 453.95 L131.00 454.54 L132.00 455.12 L133.00 455.68 L134.00 456.23 L135.00 456.77 L136.00 457.29 L137.00 457.80 L138.00 458.29 L139.00 458.78 L140.00 459.26 L141.00 459.72 L142.00 460.18 L143.00 460.62 L144.00 461.06 L145.00 461.48 L146.00 461.89 L147.00 462.29 L148.00 462.67 L149.00 463.04 L150.00 463.40 L151.00 463.75 L152.00 464.08 L153.00 464.40 L154.00 464.70 L155.00 464.99 L156.00 465.27 L157.00 465.53 L158.00 465.78 L159.00 466.02 L160.00 466.26 L161.00 466.49 L162.00 466.71 L163.00 466.91 L164.00 467.11 L165.00 467.29 L166.00 467.46 L167.00 467.62 L168.00 467.77 L169.00 467.91 L170.00 468.03 L171.00 468.15 L172.00 468.26 L173.00 468.36 L174.00 468.45 L175.00 468.53 L176.00 468.60 L177.00 468.67 L178.00 468.72 L179.00 468.77 L180.00 468.81 L181.00 468.84 L182.00 468.86 L183.00 468.88 L184.00 468.89 L185.00 468.89 L186.00 468.89 L187.00 468.87 L188.00 468.85 L189.00 468.83 L190.00 468.79 L191.00 468.75 L192.00 468.71 L193.00 468.65 L194.00 468.59 L195.00 468.53 L196.00 468.46 L197.00 468.38 L198.00 468.30 L199.00 468.21 L200.00 468.11 L201.00 468.01 L202.00 467.91 L203.00 467.80 L204.00 467.68 L205.00 467.57 L206.00 467.44 L207.00 467.32 L208.00 467.18 L209.00 467.05 L210.00 466.91 L211.00 466.77 L212.00 466.62 L213.00 466.47 L214.00 466.32 L215.00 466.17 L216.00 466.01 L217.00 465.85 L218.00 465.68 L219.00 465.52 L220.00 465.35 L221.00 465.18 L222.00 465.01 L223.00 464.83 L224.00 464.66 L225.00 464.48 L226.00 464.30 L227.00 464.12 L228.00 463.93 L229.00 463.75 L230.00 463.56 L231.00 463.37 L232.00 463.18 L233.00 462.99 L234.00 462.80 L235.00 462.61 L236.00 462.41 L237.00 462.22 L238.00 462.02 L239.00 461.83 L240.00 461.63 L241.00 461.43 L242.00 461.23 L243.00 461.03 L244.00 460.83 L245.00 460.62 L246.00 460.42 L247.00 460.22 L248.00 460.01 L249.00 459.80 L250.00 459.60 L251.00 459.39 L252.00 459.18 L253.00 458.97 L254.00 458.76 L255.00 458.54 L256.00 458.33 L257.00 458.12 L258.00 457.90 L259.00 457.68 L260.00 457.47 L261.00 457.25 L262.00 457.03 L263.00 456.81 L264.00 456.59 L265.00 456.37 L266.00 456.15 L267.00 455.93 L268.00 455.70 L269.00 455.48 L270.00 455.26 L271.00 455.03 L272.00 454.81 L273.00 454.59 L274.00 454.36 L275.00 454.14 L276.00 453.91 L277.00 453.69 L278.00 453.47 L279.00 453.24 L280.00 453.02 L281.00 452.80 L282.00 452.57 L283.00 452.35 L284.00 452.13 L285.00 451.91 L286.00 451.69 L287.00 451.47 L288.00 451.25 L289.00 451.03 L290.00 450.81 L291.00 450.59 L292.00 450.38 L293.00 450.16 L294.00 449.95 L295.00 449.74 L296.00 449.53 L297.00 449.32 L298.00 449.11 L299.00 448.91 L300.00 448.71 L301.00 448.51 L302.00 448.31 L303.00 448.11 L304.00 447.92 L305.00 447.73 L306.00 447.54 L307.00 447.36 L308.00 447.18 L309.00 447.00 L310.00 446.83 L311.00 446.65 L312.00 446.49 L313.00 446.32 L314.00 446.16 L315.00 446.00 L316.00 445.84 L317.00 445.69 L318.00 445.54 L319.00 445.40 L320.00 445.25 L321.00 445.11 L322.00 444.97 L323.00 444.84 L324.00 444.71 L325.00 444.58 L326.00 444.45 L327.00 444.32 L328.00 444.20 L329.00 444.08 L330.00 443.96 L331.00 443.85 L332.00 443.73 L333.00 443.62 L334.00 443.51 L335.00 443.40 L336.00 443.29 L337.00 443.19 L338.00 443.09 L339.00 442.99 L340.00 442.89 L341.00 442.79 L342.00 442.70 L343.00 442.61 L344.00 442.52 L345.00 442.43 L346.00 442.35 L347.00 442.27 L348.00 442.19 L349.00 442.11 L350.00 442.03 L351.00 441.96 L352.00 441.89 L353.00 441.82 L354.00 441.75 L355.00 441.69 L356.00 441.63 L357.00 441.56 L358.00 441.51 L359.00 441.45 L360.00 441.39 L361.00 441.34 L362.00 441.28 L363.00 441.23 L364.00 441.18 L365.00 441.13 L366.00 441.08 L367.00 441.03 L368.00 440.98 L369.00 440.94 L370.00 440.89 L371.00 440.85 L372.00 440.81 L373.00 440.77 L374.00 440.73 L375.00 440.69 L376.00 440.65 L377.00 440.61 L378.00 440.58 L379.00 440.54 L380.00 440.51 L381.00 440.48 L382.00 440.45 L383.00 440.42 L384.00 440.39 L385.00 440.36 L386.00 440.34 L387.00 440.31 L388.00 440.29 L389.00 440.26 L390.00 440.24 L391.00 440.22 L392.00 440.21 L393.00 440.19 L394.00 440.17 L395.00 440.16 L396.00 440.14 L397.00 440.13 L398.00 440.12 L399.00 440.10 L400.00 440.09 L401.00 440.08 L402.00 440.07 L403.00 440.07 L404.00 440.06 L405.00 440.05 L406.00 440.05 L407.00 440.04 L408.00 440.04 L409.00 440.04 L410.00 440.03 L411.00 440.03 L412.00 440.03 L413.00 440.03 L414.00 440.03 L415.00 440.03 L416.00 440.04 L417.00 440.04 L418.00 440.04 L419.00 440.05 L420.00 440.05 L421.00 440.05 L422.00 440.06 L423.00 440.07 L424.00 440.07 L425.00 440.08 L426.00 440.08 L427.00 440.09 L428.00 440.10 L429.00 440.11 L430.00 440.12 L431.00 440.12 L432.00 440.13 L433.00 440.14 L434.00 440.15 L435.00 440.16 L436.00 440.17 L437.00 440.18 L438.00 440.19 L439.00 440.20 L440.00 440.21 L441.00 440.23 L442.00 440.24 L443.00 440.25 L444.00 440.26 L445.00 440.28 L446.00 440.29 L447.00 440.30 L448.00 440.32 L449.00 440.33 L450.00 440.35 L451.00 440.36 L452.00 440.38 L453.00 440.40 L454.00 440.41 L455.00 440.43 L456.00 440.45 L457.00 440.46 L458.00 440.48 L459.00 440.50 L460.00 440.52 L461.00 440.53 L462.00 440.55 L463.00 440.57 L464.00 440.59 L465.00 440.61 L466.00 440.63 L467.00 440.65 L468.00 440.67 L469.00 440.68 L470.00 440.70 L471.00 440.72 L472.00 440.74 L473.00 440.76 L474.00 440.78 L475.00 440.80 L476.00 440.82 L477.00 440.84 L478.00 440.86 L479.00 440.88 L480.00 440.90 L481.00 440.92 L482.00 440.94 L483.00 440.96 L484.00 440.98 L485.00 441.00 L486.00 441.02 L487.00 441.04 L488.00 441.06 L489.00 441.08 L490.00 441.10 L491.00 441.12 L492.00 441.14 L493.00 441.16 L494.00 441.18 L495.00 441.20 L496.00 441.22 L497.00 441.24 L498.00 441.25 L499.00 441.27 L500.00 441.29 L501.00 441.31 L502.00 441.32 L503.00 441.34 L504.00 441.36 L505.00 441.38 L506.00 441.39 L507.00 441.41 L508.00 441.42 L509.00 441.44 L510.00 441.46 L511.00 441.47 L512.00 441.49 L513.00 441.50 L514.00 441.52 L515.00 441.53 L516.00 441.55 L517.00 441.56 L518.00 441.58 L519.00 441.59 L520.00 441.61 L521.00 441.62 L522.00 441.63 L523.00 441.65 L524.00 441.66 L525.00 441.68 L526.00 441.69 L527.00 441.70 L528.00 441.72 L529.00 441.73 L530.00 441.74 L531.00 441.76 L532.00 441.77 L533.00 441.78 L534.00 441.80 L534.50 441.80" fill="none" stroke="#3a3a3a" stroke-width="1.15" stroke-dasharray="0.95 1.5"/>
<path d="M58.80 416.80 L59.30 423.25 L59.80 428.79 L60.30 433.40 L60.80 437.01 L61.30 439.50 L61.80 440.97 L62.30 442.07 L62.80 442.50 L63.30 442.01 L63.80 440.91 L64.30 439.71 L64.80 438.69 L65.30 437.63 L65.80 436.56 L66.30 435.55 L66.80 434.65 L67.30 433.79 L67.80 432.96 L68.30 432.18 L68.80 431.44 L69.30 430.77 L69.80 430.17 L70.30 429.61 L70.80 429.09 L71.30 428.61 L71.80 428.15 L72.30 427.73 L72.80 427.32 L73.30 426.94 L73.80 426.57 L74.30 426.23 L74.80 425.89 L75.30 425.57 L75.80 425.26 L76.30 424.95 L76.80 424.64 L77.30 424.34 L77.80 424.05 L78.30 423.77 L78.80 423.51 L79.30 423.26 L79.80 423.01 L80.30 422.75 L80.80 422.48 L81.30 422.19 L81.80 421.88 L82.30 421.54 L82.80 421.17 L83.30 420.75 L83.80 420.29 L84.30 419.80 L84.80 419.28 L85.30 418.73 L85.80 418.17 L86.30 417.60 L86.80 416.99 L87.30 416.34 L87.80 415.66 L88.30 414.97 L88.80 414.30 L89.30 413.64 L89.80 412.98 L90.30 412.31 L90.80 411.65 L91.30 410.99 L91.80 410.33 L92.30 409.68 L92.80 409.04 L93.30 408.41 L93.80 407.80 L94.30 407.20 L94.80 406.60 L95.30 406.01 L95.80 405.43 L96.30 404.86 L96.80 404.30 L97.30 403.74 L97.80 403.19 L98.30 402.64 L98.80 402.11 L99.30 401.58 L99.80 401.05 L100.30 400.53 L100.80 400.02 L101.30 399.51 L101.80 399.01 L102.30 398.52 L102.80 398.03 L103.30 397.56 L103.80 397.09 L104.30 396.62 L104.80 396.16 L105.30 395.70 L105.80 395.25 L106.30 394.81 L106.80 394.37 L107.30 393.95 L107.80 393.53 L108.30 393.14 L108.80 392.76 L109.30 392.39 L109.80 392.04 L110.30 391.69 L110.80 391.36 L111.30 391.03 L111.80 390.71 L112.30 390.41 L112.80 390.11 L113.30 389.83 L113.80 389.55 L114.30 389.28 L114.80 389.02 L115.30 388.77 L115.80 388.52 L116.30 388.28 L116.80 388.05 L117.30 387.82 L117.80 387.60 L118.30 387.39 L118.80 387.18 L119.30 386.98 L119.80 386.80 L120.00 386.72 L121.00 386.38 L122.00 386.06 L123.00 385.76 L124.00 385.49 L125.00 385.23 L126.00 384.99 L127.00 384.77 L128.00 384.55 L129.00 384.34 L130.00 384.15 L131.00 383.96 L132.00 383.78 L133.00 383.61 L134.00 383.45 L135.00 383.29 L136.00 383.14 L137.00 383.00 L138.00 382.86 L139.00 382.73 L140.00 382.61 L141.00 382.50 L142.00 382.39 L143.00 382.28 L144.00 382.19 L145.00 382.10 L146.00 382.02 L147.00 381.95 L148.00 381.88 L149.00 381.82 L150.00 381.77 L151.00 381.72 L152.00 381.68 L153.00 381.64 L154.00 381.61 L155.00 381.59 L156.00 381.57 L157.00 381.55 L158.00 381.54 L159.00 381.53 L160.00 381.52 L161.00 381.52 L162.00 381.52 L163.00 381.52 L164.00 381.53 L165.00 381.54 L166.00 381.55 L167.00 381.57 L168.00 381.59 L169.00 381.61 L170.00 381.64 L171.00 381.67 L172.00 381.70 L173.00 381.73 L174.00 381.77 L175.00 381.81 L176.00 381.85 L177.00 381.89 L178.00 381.94 L179.00 381.99 L180.00 382.04 L181.00 382.09 L182.00 382.14 L183.00 382.19 L184.00 382.25 L185.00 382.31 L186.00 382.37 L187.00 382.43 L188.00 382.49 L189.00 382.55 L190.00 382.62 L191.00 382.68 L192.00 382.75 L193.00 382.82 L194.00 382.89 L195.00 382.97 L196.00 383.04 L197.00 383.11 L198.00 383.19 L199.00 383.27 L200.00 383.34 L201.00 383.42 L202.00 383.50 L203.00 383.58 L204.00 383.65 L205.00 383.73 L206.00 383.81 L207.00 383.89 L208.00 383.97 L209.00 384.04 L210.00 384.12 L211.00 384.19 L212.00 384.27 L213.00 384.34 L214.00 384.41 L215.00 384.48 L216.00 384.55 L217.00 384.62 L218.00 384.69 L219.00 384.76 L220.00 384.83 L221.00 384.89 L222.00 384.96 L223.00 385.02 L224.00 385.09 L225.00 385.15 L226.00 385.21 L227.00 385.28 L228.00 385.34 L229.00 385.40 L230.00 385.46 L231.00 385.52 L232.00 385.58 L233.00 385.64 L234.00 385.70 L235.00 385.76 L236.00 385.82 L237.00 385.87 L238.00 385.93 L239.00 385.98 L240.00 386.04 L241.00 386.09 L242.00 386.14 L243.00 386.19 L244.00 386.24 L245.00 386.29 L246.00 386.33 L247.00 386.38 L248.00 386.42 L249.00 386.47 L250.00 386.51 L251.00 386.55 L252.00 386.59 L253.00 386.64 L254.00 386.68 L255.00 386.72 L256.00 386.76 L257.00 386.80 L258.00 386.83 L259.00 386.87 L260.00 386.91 L261.00 386.95 L262.00 386.99 L263.00 387.03 L264.00 387.07 L265.00 387.10 L266.00 387.14 L267.00 387.18 L268.00 387.22 L269.00 387.25 L270.00 387.29 L271.00 387.33 L272.00 387.36 L273.00 387.40 L274.00 387.44 L275.00 387.47 L276.00 387.51 L277.00 387.54 L278.00 387.58 L279.00 387.62 L280.00 387.65 L281.00 387.69 L282.00 387.72 L283.00 387.76 L284.00 387.80 L285.00 387.83 L286.00 387.87 L287.00 387.91 L288.00 387.94 L289.00 387.98 L290.00 388.02 L291.00 388.06 L292.00 388.09 L293.00 388.13 L294.00 388.17 L295.00 388.21 L296.00 388.25 L297.00 388.30 L298.00 388.34 L299.00 388.38 L300.00 388.42 L301.00 388.46 L302.00 388.51 L303.00 388.55 L304.00 388.59 L305.00 388.64 L306.00 388.68 L307.00 388.72 L308.00 388.76 L309.00 388.81 L310.00 388.85 L311.00 388.89 L312.00 388.93 L313.00 388.97 L314.00 389.01 L315.00 389.05 L316.00 389.08 L317.00 389.12 L318.00 389.15 L319.00 389.19 L320.00 389.22 L321.00 389.25 L322.00 389.28 L323.00 389.31 L324.00 389.34 L325.00 389.37 L326.00 389.40 L327.00 389.42 L328.00 389.45 L329.00 389.47 L330.00 389.50 L331.00 389.52 L332.00 389.54 L333.00 389.56 L334.00 389.58 L335.00 389.60 L336.00 389.62 L337.00 389.64 L338.00 389.66 L339.00 389.67 L340.00 389.69 L341.00 389.71 L342.00 389.72 L343.00 389.73 L344.00 389.75 L345.00 389.76 L346.00 389.77 L347.00 389.79 L348.00 389.80 L349.00 389.81 L350.00 389.82 L351.00 389.83 L352.00 389.84 L353.00 389.85 L354.00 389.86 L355.00 389.87 L356.00 389.88 L357.00 389.89 L358.00 389.89 L359.00 389.90 L360.00 389.91 L361.00 389.92 L362.00 389.92 L363.00 389.93 L364.00 389.94 L365.00 389.95 L366.00 389.95 L367.00 389.96 L368.00 389.96 L369.00 389.97 L370.00 389.98 L371.00 389.98 L372.00 389.99 L373.00 390.00 L374.00 390.00 L375.00 390.01 L376.00 390.01 L377.00 390.02 L378.00 390.03 L379.00 390.03 L380.00 390.04 L381.00 390.04 L382.00 390.05 L383.00 390.05 L384.00 390.06 L385.00 390.07 L386.00 390.07 L387.00 390.08 L388.00 390.08 L389.00 390.09 L390.00 390.09 L391.00 390.10 L392.00 390.10 L393.00 390.11 L394.00 390.11 L395.00 390.12 L396.00 390.12 L397.00 390.13 L398.00 390.13 L399.00 390.14 L400.00 390.14 L401.00 390.15 L402.00 390.15 L403.00 390.15 L404.00 390.16 L405.00 390.16 L406.00 390.16 L407.00 390.17 L408.00 390.17 L409.00 390.17 L410.00 390.18 L411.00 390.18 L412.00 390.18 L413.00 390.18 L414.00 390.19 L415.00 390.19 L416.00 390.19 L417.00 390.19 L418.00 390.19 L419.00 390.19 L420.00 390.19 L421.00 390.20 L422.00 390.20 L423.00 390.20 L424.00 390.20 L425.00 390.20 L426.00 390.20 L427.00 390.20 L428.00 390.20 L429.00 390.20 L430.00 390.20 L431.00 390.20 L432.00 390.20 L433.00 390.20 L434.00 390.20 L435.00 390.20 L436.00 390.20 L437.00 390.20 L438.00 390.20 L439.00 390.20 L440.00 390.20 L441.00 390.20 L442.00 390.20 L443.00 390.20 L444.00 390.20 L445.00 390.20 L446.00 390.20 L447.00 390.20 L448.00 390.20 L449.00 390.20 L450.00 390.20 L451.00 390.20 L452.00 390.20 L453.00 390.20 L454.00 390.20 L455.00 390.20 L456.00 390.20 L457.00 390.20 L458.00 390.20 L459.00 390.20 L460.00 390.20 L461.00 390.20 L462.00 390.20 L463.00 390.20 L464.00 390.20 L465.00 390.20 L466.00 390.20 L467.00 390.20 L468.00 390.20 L469.00 390.20 L470.00 390.20 L471.00 390.20 L472.00 390.20 L473.00 390.20 L474.00 390.20 L475.00 390.19 L476.00 390.19 L477.00 390.19 L478.00 390.19 L479.00 390.19 L480.00 390.19 L481.00 390.19 L482.00 390.19 L483.00 390.18 L484.00 390.18 L485.00 390.18 L486.00 390.18 L487.00 390.18 L488.00 390.18 L489.00 390.17 L490.00 390.17 L491.00 390.17 L492.00 390.17 L493.00 390.16 L494.00 390.16 L495.00 390.16 L496.00 390.16 L497.00 390.15 L498.00 390.15 L499.00 390.15 L500.00 390.14 L501.00 390.14 L502.00 390.14 L503.00 390.13 L504.00 390.13 L505.00 390.13 L506.00 390.12 L507.00 390.12 L508.00 390.12 L509.00 390.11 L510.00 390.11 L511.00 390.10 L512.00 390.10 L513.00 390.10 L514.00 390.09 L515.00 390.09 L516.00 390.08 L517.00 390.08 L518.00 390.08 L519.00 390.07 L520.00 390.07 L521.00 390.06 L522.00 390.06 L523.00 390.05 L524.00 390.05 L525.00 390.04 L526.00 390.04 L527.00 390.04 L528.00 390.03 L529.00 390.03 L530.00 390.02 L531.00 390.02 L532.00 390.01 L533.00 390.01 L534.00 390.00 L534.50 390.00" fill="none" stroke="#3c3c3c" stroke-width="1.15" stroke-dasharray="6.3 3.7"/>
<path d="M212.5 489.8 v-5 M212.5 364.0 v5 M373.5 489.8 v-5 M373.5 364.0 v5 M51.1 389.5 h5 M534.5 389.5 h-5 M51.1 414.5 h5 M534.5 414.5 h-5 M51.1 439.5 h5 M534.5 439.5 h-5 M51.1 464.5 h5 M534.5 464.5 h-5" stroke="#555" stroke-width="0.9" fill="none"/>
<rect x="51.1" y="364.0" width="483.4" height="125.8" fill="none" stroke="#707070" stroke-width="1.25"/>
<g font-family="'Liberation Sans', Arial, sans-serif" font-size="8.2" fill="#444">
<text x="45.4" y="367.0" text-anchor="end">0.02</text>
<text x="45.4" y="392.2" text-anchor="end">0.01</text>
<text x="45.4" y="417.3" text-anchor="end">0</text>
<text x="45.4" y="442.5" text-anchor="end">-0.01</text>
<text x="45.4" y="467.6" text-anchor="end">-0.02</text>
<text x="45.4" y="492.8" text-anchor="end">-0.03</text>
<text x="51.1" y="501.8" text-anchor="middle">0</text>
<text x="212.2" y="501.8" text-anchor="middle">5</text>
<text x="373.4" y="501.8" text-anchor="middle">10</text>
<text x="534.5" y="501.8" text-anchor="middle">15</text>
</g>
<text x="261.9" y="519.2" font-family="'Liberation Serif', 'Times New Roman', serif" font-size="18.8" fill="#222" textLength="37.2" lengthAdjust="spacingAndGlyphs">Time</text>
<text x="306.0" y="519.2" font-family="'Liberation Serif', 'Times New Roman', serif" font-size="18.8" fill="#222" textLength="16.4" lengthAdjust="spacingAndGlyphs">(s)</text>
<text transform="translate(18.0 492.8) rotate(-90)" font-family="'Liberation Serif', 'Times New Roman', serif" font-size="19.3" fill="#222" textLength="92.2" lengthAdjust="spacingAndGlyphs">Error signal</text>
<text transform="translate(18.0 394.0) rotate(-90)" font-family="'Liberation Serif', 'Times New Roman', serif" font-size="19.3" fill="#222" textLength="25.0" lengthAdjust="spacingAndGlyphs"><tspan font-style="italic">e</tspan>(<tspan font-style="italic">t</tspan>)</text>
<rect x="388.6" y="372.1" width="137.4" height="48" fill="#fff" stroke="#555" stroke-width="0.9"/>
<path d="M390.8 381.1 H416.5" fill="none" stroke="#3c3c3c" stroke-width="1.1"/>
<text x="418.6" y="385.5" font-family="'Liberation Sans', Arial, sans-serif" font-size="12.5" fill="#222">0% Variation</text>
<path d="M390.8 396.5 H416.5" fill="none" stroke="#3a3a3a" stroke-width="1.15" stroke-dasharray="0.95 1.5"/>
<text x="418.6" y="400.9" font-family="'Liberation Sans', Arial, sans-serif" font-size="12.5" fill="#222">20% Upwards</text>
<path d="M390.8 411.9 H416.5" fill="none" stroke="#3c3c3c" stroke-width="1.15" stroke-dasharray="6.3 3.7"/>
<text x="418.6" y="416.3" font-family="'Liberation Sans', Arial, sans-serif" font-size="12.5" fill="#222">20% Downwards</text>
</g>
</svg>
</body>
</html>
